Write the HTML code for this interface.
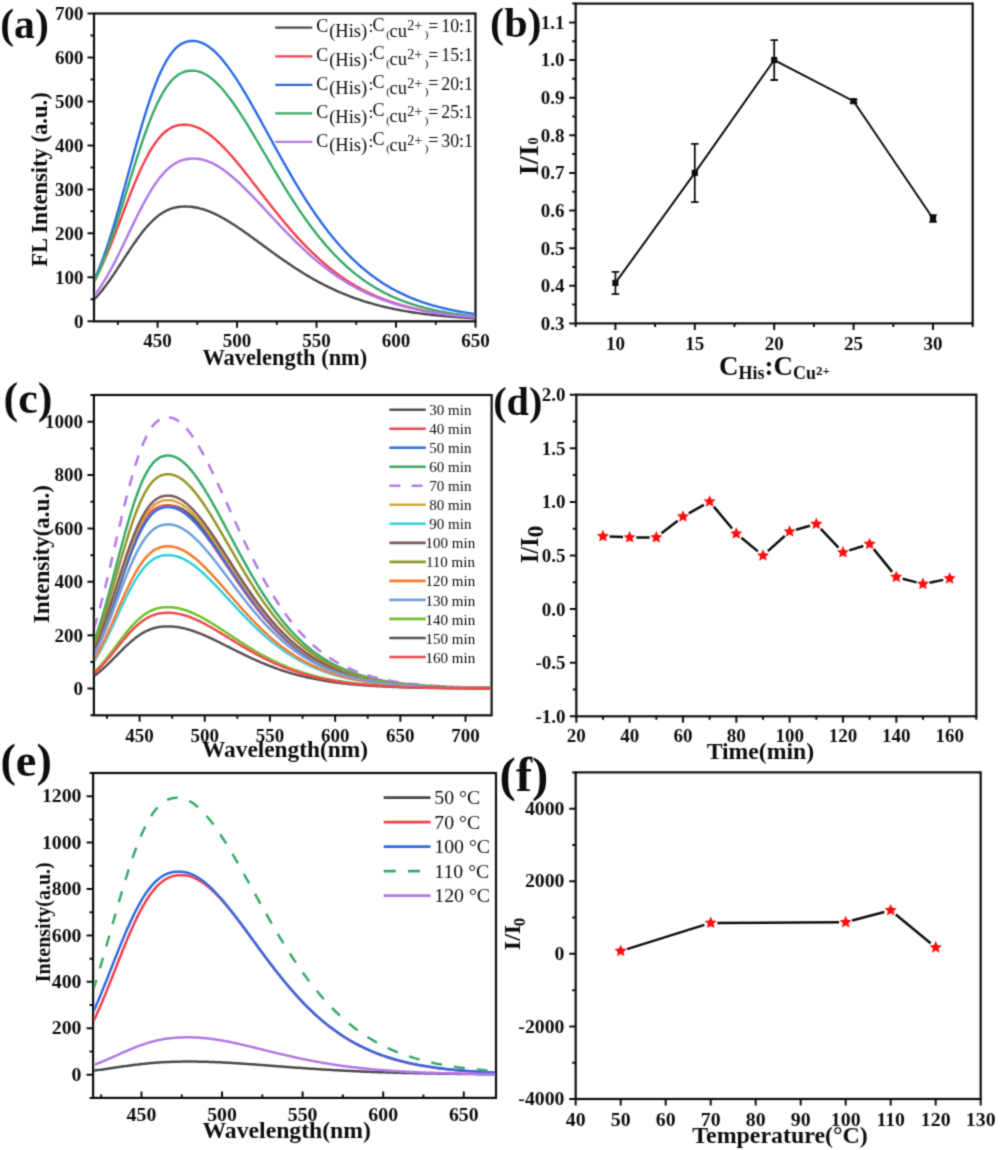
<!DOCTYPE html>
<html><head><meta charset="utf-8"><title>Figure</title>
<style>
html,body{margin:0;padding:0;background:#fff;}
svg{display:block;}
text{font-family:"Liberation Serif", serif;fill:#111;}
</style></head>
<body>
<svg width="1000" height="1150" viewBox="0 0 1000 1150">
<rect width="1000" height="1150" fill="#fff"/>
<defs>
<filter id="soft" filterUnits="userSpaceOnUse" x="0" y="0" width="1000" height="1150"><feConvolveMatrix order="3" kernelMatrix="0.0277 0.1110 0.0277 0.1110 0.4452 0.1110 0.0277 0.1110 0.0277" edgeMode="none"/></filter>
<clipPath id="clipA"><rect x="95" y="14.5" width="379.5" height="305.8"/></clipPath>
<clipPath id="clipC"><rect x="94.9" y="396" width="395.7" height="318.3"/></clipPath>
<clipPath id="clipE"><rect x="94.3" y="774" width="400.7" height="322.6"/></clipPath>
</defs>
<g filter="url(#soft)">
<rect x="94" y="13.5" width="381.5" height="307.8" fill="none" stroke="#111" stroke-width="2.2"/>
<path d="M87.5 321.3H94M87.5 277.33H94M87.5 233.36H94M87.5 189.39H94M87.5 145.41H94M87.5 101.44H94M87.5 57.47H94M87.5 13.5H94M90.5 299.31H94M90.5 255.34H94M90.5 211.37H94M90.5 167.4H94M90.5 123.43H94M90.5 79.46H94M90.5 35.49H94" stroke="#111" stroke-width="2.0" fill="none"/>
<text x="83.5" y="327.7" text-anchor="end" font-size="19" font-weight="bold">0</text>
<text x="83.5" y="283.73" text-anchor="end" font-size="19" font-weight="bold">100</text>
<text x="83.5" y="239.76" text-anchor="end" font-size="19" font-weight="bold">200</text>
<text x="83.5" y="195.79" text-anchor="end" font-size="19" font-weight="bold">300</text>
<text x="83.5" y="151.81" text-anchor="end" font-size="19" font-weight="bold">400</text>
<text x="83.5" y="107.84" text-anchor="end" font-size="19" font-weight="bold">500</text>
<text x="83.5" y="63.87" text-anchor="end" font-size="19" font-weight="bold">600</text>
<text x="83.5" y="19.9" text-anchor="end" font-size="19" font-weight="bold">700</text>
<path d="M157.58 321.3V327.8M237.06 321.3V327.8M316.54 321.3V327.8M396.02 321.3V327.8M475.5 321.3V327.8M117.84 321.3V324.8M197.32 321.3V324.8M276.8 321.3V324.8M356.28 321.3V324.8M435.76 321.3V324.8" stroke="#111" stroke-width="2.0" fill="none"/>
<text x="157.58" y="346.5" text-anchor="middle" font-size="19" font-weight="bold">450</text>
<text x="237.06" y="346.5" text-anchor="middle" font-size="19" font-weight="bold">500</text>
<text x="316.54" y="346.5" text-anchor="middle" font-size="19" font-weight="bold">550</text>
<text x="396.02" y="346.5" text-anchor="middle" font-size="19" font-weight="bold">600</text>
<text x="475.5" y="346.5" text-anchor="middle" font-size="19" font-weight="bold">650</text>
<text x="0.2" y="37.7" font-size="41.7" font-weight="bold" text-anchor="start">(a)</text>
<text x="284.8" y="364.6" font-size="22.4" font-weight="bold" text-anchor="middle">Wavelength (nm)</text>
<text transform="translate(46.5 179.5) rotate(-90)" font-size="22.6" font-weight="bold" text-anchor="middle">FL Intensity (a.u.)</text>
<g clip-path="url(#clipA)">
<path d="M94 299.72 L95.59 298.04 L97.18 296.29 L98.77 294.47 L100.36 292.58 L101.95 290.62 L103.54 288.6 L105.13 286.51 L106.72 284.37 L108.31 282.18 L109.9 279.94 L111.49 277.65 L113.08 275.32 L114.66 272.96 L116.25 270.57 L117.84 268.15 L119.43 265.72 L121.02 263.27 L122.61 260.82 L124.2 258.37 L125.79 255.92 L127.38 253.49 L128.97 251.07 L130.56 248.68 L132.15 246.31 L133.74 243.99 L135.33 241.7 L136.92 239.45 L138.51 237.26 L140.1 235.12 L141.69 233.05 L143.28 231.03 L144.87 229.09 L146.46 227.21 L148.05 225.41 L149.64 223.69 L151.22 222.05 L152.81 220.49 L154.4 219.01 L155.99 217.62 L157.58 216.31 L159.17 215.09 L160.76 213.96 L162.35 212.92 L163.94 211.96 L165.53 211.09 L167.12 210.3 L168.71 209.59 L170.3 208.97 L171.89 208.43 L173.48 207.96 L175.07 207.56 L176.66 207.24 L178.25 206.99 L179.84 206.79 L181.43 206.66 L183.02 206.58 L184.61 206.54 L186.2 206.54 L187.79 206.58 L189.38 206.66 L190.96 206.8 L192.55 206.98 L194.14 207.2 L195.73 207.48 L197.32 207.79 L198.91 208.15 L200.5 208.55 L202.09 208.99 L203.68 209.47 L205.27 209.99 L206.86 210.55 L208.45 211.15 L210.04 211.78 L211.63 212.44 L213.22 213.14 L214.81 213.87 L216.4 214.63 L217.99 215.42 L219.58 216.24 L221.17 217.09 L222.76 217.97 L224.35 218.86 L225.94 219.79 L227.53 220.73 L229.11 221.7 L230.7 222.69 L232.29 223.69 L233.88 224.72 L235.47 225.76 L237.06 226.81 L238.65 227.88 L240.24 228.97 L241.83 230.07 L243.42 231.17 L245.01 232.29 L246.6 233.42 L248.19 234.56 L249.78 235.7 L251.37 236.85 L252.96 238 L254.55 239.16 L256.14 240.33 L257.73 241.49 L259.32 242.66 L260.91 243.83 L262.5 245 L264.09 246.17 L265.68 247.34 L267.26 248.5 L268.85 249.66 L270.44 250.82 L272.03 251.98 L273.62 253.13 L275.21 254.28 L276.8 255.42 L278.39 256.55 L279.98 257.68 L281.57 258.8 L283.16 259.91 L284.75 261.01 L286.34 262.11 L287.93 263.19 L289.52 264.27 L291.11 265.34 L292.7 266.39 L294.29 267.44 L295.88 268.47 L297.47 269.5 L299.06 270.51 L300.65 271.51 L302.24 272.51 L303.82 273.48 L305.41 274.45 L307 275.4 L308.59 276.35 L310.18 277.28 L311.77 278.19 L313.36 279.1 L314.95 279.99 L316.54 280.86 L318.13 281.73 L319.72 282.58 L321.31 283.42 L322.9 284.25 L324.49 285.06 L326.08 285.86 L327.67 286.65 L329.26 287.42 L330.85 288.18 L332.44 288.93 L334.03 289.66 L335.62 290.39 L337.21 291.1 L338.8 291.79 L340.39 292.48 L341.98 293.15 L343.56 293.81 L345.15 294.45 L346.74 295.09 L348.33 295.71 L349.92 296.32 L351.51 296.92 L353.1 297.5 L354.69 298.08 L356.28 298.64 L357.87 299.19 L359.46 299.73 L361.05 300.26 L362.64 300.78 L364.23 301.29 L365.82 301.79 L367.41 302.27 L369 302.75 L370.59 303.21 L372.18 303.67 L373.77 304.11 L375.36 304.55 L376.95 304.97 L378.54 305.39 L380.12 305.8 L381.71 306.2 L383.3 306.58 L384.89 306.96 L386.48 307.33 L388.07 307.7 L389.66 308.05 L391.25 308.4 L392.84 308.73 L394.43 309.06 L396.02 309.39 L397.61 309.7 L399.2 310.01 L400.79 310.31 L402.38 310.6 L403.97 310.88 L405.56 311.16 L407.15 311.43 L408.74 311.7 L410.33 311.96 L411.92 312.21 L413.51 312.45 L415.1 312.69 L416.69 312.92 L418.27 313.15 L419.86 313.37 L421.45 313.59 L423.04 313.8 L424.63 314 L426.22 314.2 L427.81 314.4 L429.4 314.59 L430.99 314.77 L432.58 314.95 L434.17 315.13 L435.76 315.3 L437.35 315.47 L438.94 315.63 L440.53 315.79 L442.12 315.94 L443.71 316.09 L445.3 316.23 L446.89 316.38 L448.48 316.51 L450.07 316.65 L451.66 316.78 L453.25 316.91 L454.84 317.03 L456.43 317.15 L458.01 317.27 L459.6 317.38 L461.19 317.49 L462.78 317.6 L464.37 317.7 L465.96 317.81 L467.55 317.9 L469.14 318 L470.73 318.09 L472.32 318.19 L473.91 318.27 L475.5 318.36" stroke="#4a4a4a" stroke-width="2.4" fill="none" stroke-linejoin="round"/>
<path d="M94 281.72 L95.59 278.75 L97.18 275.65 L98.77 272.43 L100.36 269.1 L101.95 265.65 L103.54 262.11 L105.13 258.46 L106.72 254.73 L108.31 250.91 L109.9 247.01 L111.49 243.04 L113.08 239.02 L114.66 234.94 L116.25 230.82 L117.84 226.67 L119.43 222.5 L121.02 218.32 L122.61 214.13 L124.2 209.96 L125.79 205.8 L127.38 201.67 L128.97 197.58 L130.56 193.54 L132.15 189.55 L133.74 185.63 L135.33 181.79 L136.92 178.03 L138.51 174.37 L140.1 170.81 L141.69 167.35 L143.28 164.01 L144.87 160.79 L146.46 157.69 L148.05 154.72 L149.64 151.89 L151.22 149.2 L152.81 146.65 L154.4 144.24 L155.99 141.98 L157.58 139.87 L159.17 137.9 L160.76 136.09 L162.35 134.42 L163.94 132.89 L165.53 131.51 L167.12 130.28 L168.71 129.18 L170.3 128.22 L171.89 127.39 L173.48 126.68 L175.07 126.1 L176.66 125.63 L178.25 125.28 L179.84 125.02 L181.43 124.85 L183.02 124.77 L184.61 124.75 L186.2 124.79 L187.79 124.92 L189.38 125.14 L190.96 125.44 L192.55 125.82 L194.14 126.29 L195.73 126.83 L197.32 127.45 L198.91 128.15 L200.5 128.92 L202.09 129.77 L203.68 130.68 L205.27 131.67 L206.86 132.72 L208.45 133.83 L210.04 135.01 L211.63 136.25 L213.22 137.54 L214.81 138.89 L216.4 140.3 L217.99 141.75 L219.58 143.26 L221.17 144.81 L222.76 146.41 L224.35 148.05 L225.94 149.73 L227.53 151.44 L229.11 153.2 L230.7 154.99 L232.29 156.81 L233.88 158.65 L235.47 160.53 L237.06 162.43 L238.65 164.36 L240.24 166.31 L241.83 168.27 L243.42 170.26 L245.01 172.26 L246.6 174.27 L248.19 176.3 L249.78 178.33 L251.37 180.38 L252.96 182.43 L254.55 184.49 L256.14 186.55 L257.73 188.61 L259.32 190.67 L260.91 192.74 L262.5 194.8 L264.09 196.86 L265.68 198.91 L267.26 200.95 L268.85 202.99 L270.44 205.02 L272.03 207.05 L273.62 209.06 L275.21 211.06 L276.8 213.04 L278.39 215.02 L279.98 216.98 L281.57 218.92 L283.16 220.85 L284.75 222.76 L286.34 224.66 L287.93 226.53 L289.52 228.39 L291.11 230.23 L292.7 232.05 L294.29 233.85 L295.88 235.62 L297.47 237.38 L299.06 239.12 L300.65 240.83 L302.24 242.52 L303.82 244.19 L305.41 245.84 L307 247.46 L308.59 249.06 L310.18 250.64 L311.77 252.19 L313.36 253.72 L314.95 255.23 L316.54 256.71 L318.13 258.17 L319.72 259.6 L321.31 261.02 L322.9 262.4 L324.49 263.77 L326.08 265.11 L327.67 266.42 L329.26 267.72 L330.85 268.98 L332.44 270.23 L334.03 271.45 L335.62 272.65 L337.21 273.83 L338.8 274.98 L340.39 276.12 L341.98 277.23 L343.56 278.31 L345.15 279.38 L346.74 280.42 L348.33 281.44 L349.92 282.45 L351.51 283.43 L353.1 284.39 L354.69 285.32 L356.28 286.24 L357.87 287.14 L359.46 288.02 L361.05 288.88 L362.64 289.72 L364.23 290.55 L365.82 291.35 L367.41 292.13 L369 292.9 L370.59 293.65 L372.18 294.39 L373.77 295.1 L375.36 295.8 L376.95 296.48 L378.54 297.15 L380.12 297.8 L381.71 298.43 L383.3 299.05 L384.89 299.66 L386.48 300.25 L388.07 300.82 L389.66 301.38 L391.25 301.93 L392.84 302.46 L394.43 302.98 L396.02 303.49 L397.61 303.98 L399.2 304.47 L400.79 304.93 L402.38 305.39 L403.97 305.84 L405.56 306.27 L407.15 306.69 L408.74 307.11 L410.33 307.51 L411.92 307.9 L413.51 308.28 L415.1 308.65 L416.69 309.01 L418.27 309.36 L419.86 309.7 L421.45 310.03 L423.04 310.36 L424.63 310.67 L426.22 310.98 L427.81 311.28 L429.4 311.57 L430.99 311.85 L432.58 312.12 L434.17 312.39 L435.76 312.65 L437.35 312.9 L438.94 313.14 L440.53 313.38 L442.12 313.61 L443.71 313.84 L445.3 314.06 L446.89 314.27 L448.48 314.48 L450.07 314.68 L451.66 314.87 L453.25 315.06 L454.84 315.25 L456.43 315.43 L458.01 315.6 L459.6 315.77 L461.19 315.93 L462.78 316.09 L464.37 316.25 L465.96 316.4 L467.55 316.54 L469.14 316.69 L470.73 316.82 L472.32 316.96 L473.91 317.09 L475.5 317.21" stroke="#f2414a" stroke-width="2.4" fill="none" stroke-linejoin="round"/>
<path d="M94 280.26 L95.59 276.82 L97.18 273.2 L98.77 269.41 L100.36 265.44 L101.95 261.3 L103.54 256.99 L105.13 252.51 L106.72 247.88 L108.31 243.1 L109.9 238.17 L111.49 233.11 L113.08 227.92 L114.66 222.61 L116.25 217.19 L117.84 211.67 L119.43 206.07 L121.02 200.39 L122.61 194.65 L124.2 188.87 L125.79 183.04 L127.38 177.2 L128.97 171.34 L130.56 165.5 L132.15 159.67 L133.74 153.87 L135.33 148.12 L136.92 142.42 L138.51 136.8 L140.1 131.27 L141.69 125.83 L143.28 120.5 L144.87 115.29 L146.46 110.21 L148.05 105.27 L149.64 100.48 L151.22 95.85 L152.81 91.39 L154.4 87.1 L155.99 82.99 L157.58 79.07 L159.17 75.33 L160.76 71.79 L162.35 68.45 L163.94 65.31 L165.53 62.38 L167.12 59.64 L168.71 57.11 L170.3 54.78 L171.89 52.65 L173.48 50.71 L175.07 48.97 L176.66 47.43 L178.25 46.06 L179.84 44.88 L181.43 43.88 L183.02 43.04 L184.61 42.36 L186.2 41.83 L187.79 41.44 L189.38 41.18 L190.96 41.04 L192.55 40.98 L194.14 41.01 L195.73 41.16 L197.32 41.43 L198.91 41.81 L200.5 42.31 L202.09 42.93 L203.68 43.65 L205.27 44.49 L206.86 45.43 L208.45 46.48 L210.04 47.64 L211.63 48.89 L213.22 50.23 L214.81 51.68 L216.4 53.21 L217.99 54.83 L219.58 56.54 L221.17 58.32 L222.76 60.19 L224.35 62.14 L225.94 64.16 L227.53 66.24 L229.11 68.4 L230.7 70.62 L232.29 72.9 L233.88 75.24 L235.47 77.63 L237.06 80.08 L238.65 82.58 L240.24 85.12 L241.83 87.7 L243.42 90.33 L245.01 92.99 L246.6 95.69 L248.19 98.42 L249.78 101.17 L251.37 103.96 L252.96 106.77 L254.55 109.59 L256.14 112.44 L257.73 115.31 L259.32 118.18 L260.91 121.07 L262.5 123.97 L264.09 126.88 L265.68 129.79 L267.26 132.7 L268.85 135.61 L270.44 138.52 L272.03 141.43 L273.62 144.33 L275.21 147.23 L276.8 150.12 L278.39 152.99 L279.98 155.86 L281.57 158.71 L283.16 161.55 L284.75 164.37 L286.34 167.17 L287.93 169.95 L289.52 172.72 L291.11 175.46 L292.7 178.18 L294.29 180.88 L295.88 183.55 L297.47 186.2 L299.06 188.82 L300.65 191.42 L302.24 193.99 L303.82 196.53 L305.41 199.04 L307 201.52 L308.59 203.97 L310.18 206.39 L311.77 208.78 L313.36 211.14 L314.95 213.47 L316.54 215.76 L318.13 218.02 L319.72 220.25 L321.31 222.45 L322.9 224.61 L324.49 226.75 L326.08 228.84 L327.67 230.91 L329.26 232.94 L330.85 234.94 L332.44 236.9 L334.03 238.84 L335.62 240.74 L337.21 242.6 L338.8 244.43 L340.39 246.23 L341.98 248 L343.56 249.74 L345.15 251.44 L346.74 253.11 L348.33 254.75 L349.92 256.36 L351.51 257.93 L353.1 259.48 L354.69 260.99 L356.28 262.48 L357.87 263.93 L359.46 265.36 L361.05 266.75 L362.64 268.12 L364.23 269.45 L365.82 270.76 L367.41 272.04 L369 273.3 L370.59 274.52 L372.18 275.72 L373.77 276.9 L375.36 278.04 L376.95 279.16 L378.54 280.26 L380.12 281.33 L381.71 282.38 L383.3 283.4 L384.89 284.4 L386.48 285.38 L388.07 286.33 L389.66 287.26 L391.25 288.17 L392.84 289.06 L394.43 289.92 L396.02 290.77 L397.61 291.59 L399.2 292.4 L400.79 293.18 L402.38 293.95 L403.97 294.69 L405.56 295.42 L407.15 296.13 L408.74 296.82 L410.33 297.5 L411.92 298.15 L413.51 298.79 L415.1 299.42 L416.69 300.03 L418.27 300.62 L419.86 301.2 L421.45 301.76 L423.04 302.31 L424.63 302.84 L426.22 303.36 L427.81 303.87 L429.4 304.36 L430.99 304.84 L432.58 305.31 L434.17 305.76 L435.76 306.21 L437.35 306.64 L438.94 307.06 L440.53 307.46 L442.12 307.86 L443.71 308.25 L445.3 308.62 L446.89 308.99 L448.48 309.34 L450.07 309.69 L451.66 310.02 L453.25 310.35 L454.84 310.67 L456.43 310.98 L458.01 311.28 L459.6 311.57 L461.19 311.85 L462.78 312.13 L464.37 312.4 L465.96 312.66 L467.55 312.91 L469.14 313.16 L470.73 313.4 L472.32 313.63 L473.91 313.85 L475.5 314.07" stroke="#2e6be2" stroke-width="2.4" fill="none" stroke-linejoin="round"/>
<path d="M94 281.75 L95.59 278.55 L97.18 275.2 L98.77 271.7 L100.36 268.04 L101.95 264.24 L103.54 260.29 L105.13 256.21 L106.72 251.99 L108.31 247.64 L109.9 243.17 L111.49 238.59 L113.08 233.9 L114.66 229.11 L116.25 224.24 L117.84 219.3 L119.43 214.28 L121.02 209.21 L122.61 204.09 L124.2 198.94 L125.79 193.77 L127.38 188.59 L128.97 183.4 L130.56 178.24 L132.15 173.09 L133.74 167.99 L135.33 162.93 L136.92 157.94 L138.51 153.01 L140.1 148.17 L141.69 143.41 L143.28 138.76 L144.87 134.23 L146.46 129.81 L148.05 125.52 L149.64 121.36 L151.22 117.35 L152.81 113.49 L154.4 109.79 L155.99 106.25 L157.58 102.87 L159.17 99.66 L160.76 96.62 L162.35 93.76 L163.94 91.07 L165.53 88.56 L167.12 86.23 L168.71 84.08 L170.3 82.1 L171.89 80.29 L173.48 78.66 L175.07 77.2 L176.66 75.9 L178.25 74.76 L179.84 73.78 L181.43 72.95 L183.02 72.26 L184.61 71.71 L186.2 71.29 L187.79 70.98 L189.38 70.79 L190.96 70.69 L192.55 70.66 L194.14 70.72 L195.73 70.9 L197.32 71.19 L198.91 71.59 L200.5 72.1 L202.09 72.72 L203.68 73.45 L205.27 74.28 L206.86 75.22 L208.45 76.25 L210.04 77.38 L211.63 78.6 L213.22 79.92 L214.81 81.32 L216.4 82.81 L217.99 84.39 L219.58 86.04 L221.17 87.77 L222.76 89.57 L224.35 91.44 L225.94 93.39 L227.53 95.39 L229.11 97.46 L230.7 99.59 L232.29 101.77 L233.88 104.01 L235.47 106.3 L237.06 108.63 L238.65 111.01 L240.24 113.42 L241.83 115.88 L243.42 118.37 L245.01 120.89 L246.6 123.45 L248.19 126.03 L249.78 128.63 L251.37 131.26 L252.96 133.9 L254.55 136.57 L256.14 139.24 L257.73 141.93 L259.32 144.63 L260.91 147.33 L262.5 150.04 L264.09 152.76 L265.68 155.47 L267.26 158.18 L268.85 160.89 L270.44 163.6 L272.03 166.3 L273.62 168.99 L275.21 171.67 L276.8 174.33 L278.39 176.99 L279.98 179.63 L281.57 182.25 L283.16 184.86 L284.75 187.45 L286.34 190.02 L287.93 192.56 L289.52 195.09 L291.11 197.59 L292.7 200.07 L294.29 202.52 L295.88 204.95 L297.47 207.35 L299.06 209.73 L300.65 212.07 L302.24 214.39 L303.82 216.68 L305.41 218.94 L307 221.17 L308.59 223.37 L310.18 225.53 L311.77 227.67 L313.36 229.78 L314.95 231.85 L316.54 233.89 L318.13 235.9 L319.72 237.88 L321.31 239.83 L322.9 241.74 L324.49 243.62 L326.08 245.47 L327.67 247.29 L329.26 249.07 L330.85 250.82 L332.44 252.54 L334.03 254.23 L335.62 255.88 L337.21 257.51 L338.8 259.1 L340.39 260.66 L341.98 262.19 L343.56 263.69 L345.15 265.16 L346.74 266.6 L348.33 268.01 L349.92 269.39 L351.51 270.74 L353.1 272.06 L354.69 273.35 L356.28 274.62 L357.87 275.86 L359.46 277.07 L361.05 278.25 L362.64 279.4 L364.23 280.53 L365.82 281.63 L367.41 282.71 L369 283.76 L370.59 284.79 L372.18 285.79 L373.77 286.77 L375.36 287.73 L376.95 288.66 L378.54 289.57 L380.12 290.46 L381.71 291.32 L383.3 292.17 L384.89 292.99 L386.48 293.79 L388.07 294.57 L389.66 295.33 L391.25 296.08 L392.84 296.8 L394.43 297.5 L396.02 298.19 L397.61 298.86 L399.2 299.51 L400.79 300.14 L402.38 300.76 L403.97 301.36 L405.56 301.94 L407.15 302.51 L408.74 303.07 L410.33 303.6 L411.92 304.13 L413.51 304.64 L415.1 305.13 L416.69 305.61 L418.27 306.08 L419.86 306.54 L421.45 306.98 L423.04 307.41 L424.63 307.83 L426.22 308.23 L427.81 308.63 L429.4 309.01 L430.99 309.38 L432.58 309.75 L434.17 310.1 L435.76 310.44 L437.35 310.77 L438.94 311.09 L440.53 311.41 L442.12 311.71 L443.71 312 L445.3 312.29 L446.89 312.57 L448.48 312.84 L450.07 313.1 L451.66 313.35 L453.25 313.6 L454.84 313.84 L456.43 314.07 L458.01 314.3 L459.6 314.51 L461.19 314.73 L462.78 314.93 L464.37 315.13 L465.96 315.32 L467.55 315.51 L469.14 315.69 L470.73 315.87 L472.32 316.04 L473.91 316.21 L475.5 316.37" stroke="#3aa86a" stroke-width="2.4" fill="none" stroke-linejoin="round"/>
<path d="M94 295.82 L95.59 293.78 L97.18 291.63 L98.77 289.39 L100.36 287.06 L101.95 284.63 L103.54 282.1 L105.13 279.49 L106.72 276.8 L108.31 274.02 L109.9 271.16 L111.49 268.23 L113.08 265.23 L114.66 262.17 L116.25 259.06 L117.84 255.89 L119.43 252.68 L121.02 249.43 L122.61 246.15 L124.2 242.85 L125.79 239.53 L127.38 236.2 L128.97 232.87 L130.56 229.55 L132.15 226.24 L133.74 222.96 L135.33 219.7 L136.92 216.47 L138.51 213.29 L140.1 210.16 L141.69 207.09 L143.28 204.08 L144.87 201.13 L146.46 198.26 L148.05 195.47 L149.64 192.76 L151.22 190.15 L152.81 187.62 L154.4 185.2 L155.99 182.87 L157.58 180.65 L159.17 178.53 L160.76 176.52 L162.35 174.62 L163.94 172.84 L165.53 171.16 L167.12 169.6 L168.71 168.15 L170.3 166.81 L171.89 165.58 L173.48 164.47 L175.07 163.46 L176.66 162.55 L178.25 161.76 L179.84 161.06 L181.43 160.46 L183.02 159.95 L184.61 159.54 L186.2 159.21 L187.79 158.95 L189.38 158.78 L190.96 158.67 L192.55 158.62 L194.14 158.61 L195.73 158.66 L197.32 158.78 L198.91 158.97 L200.5 159.24 L202.09 159.57 L203.68 159.97 L205.27 160.43 L206.86 160.96 L208.45 161.55 L210.04 162.2 L211.63 162.92 L213.22 163.69 L214.81 164.51 L216.4 165.4 L217.99 166.33 L219.58 167.32 L221.17 168.35 L222.76 169.44 L224.35 170.57 L225.94 171.74 L227.53 172.96 L229.11 174.21 L230.7 175.51 L232.29 176.84 L233.88 178.21 L235.47 179.61 L237.06 181.04 L238.65 182.5 L240.24 183.99 L241.83 185.51 L243.42 187.05 L245.01 188.61 L246.6 190.2 L248.19 191.8 L249.78 193.42 L251.37 195.05 L252.96 196.7 L254.55 198.37 L256.14 200.04 L257.73 201.72 L259.32 203.42 L260.91 205.12 L262.5 206.82 L264.09 208.53 L265.68 210.24 L267.26 211.95 L268.85 213.67 L270.44 215.38 L272.03 217.09 L273.62 218.8 L275.21 220.5 L276.8 222.2 L278.39 223.89 L279.98 225.58 L281.57 227.25 L283.16 228.92 L284.75 230.58 L286.34 232.23 L287.93 233.86 L289.52 235.49 L291.11 237.1 L292.7 238.69 L294.29 240.28 L295.88 241.85 L297.47 243.4 L299.06 244.94 L300.65 246.46 L302.24 247.97 L303.82 249.46 L305.41 250.93 L307 252.38 L308.59 253.82 L310.18 255.24 L311.77 256.64 L313.36 258.02 L314.95 259.38 L316.54 260.72 L318.13 262.05 L319.72 263.35 L321.31 264.63 L322.9 265.9 L324.49 267.14 L326.08 268.37 L327.67 269.57 L329.26 270.76 L330.85 271.92 L332.44 273.07 L334.03 274.19 L335.62 275.3 L337.21 276.39 L338.8 277.45 L340.39 278.5 L341.98 279.53 L343.56 280.54 L345.15 281.53 L346.74 282.5 L348.33 283.45 L349.92 284.38 L351.51 285.29 L353.1 286.19 L354.69 287.07 L356.28 287.93 L357.87 288.77 L359.46 289.59 L361.05 290.4 L362.64 291.19 L364.23 291.96 L365.82 292.72 L367.41 293.46 L369 294.18 L370.59 294.89 L372.18 295.58 L373.77 296.26 L375.36 296.92 L376.95 297.56 L378.54 298.19 L380.12 298.81 L381.71 299.41 L383.3 300 L384.89 300.57 L386.48 301.13 L388.07 301.68 L389.66 302.21 L391.25 302.73 L392.84 303.24 L394.43 303.73 L396.02 304.22 L397.61 304.69 L399.2 305.15 L400.79 305.59 L402.38 306.03 L403.97 306.46 L405.56 306.87 L407.15 307.28 L408.74 307.67 L410.33 308.05 L411.92 308.43 L413.51 308.79 L415.1 309.15 L416.69 309.49 L418.27 309.83 L419.86 310.15 L421.45 310.47 L423.04 310.78 L424.63 311.09 L426.22 311.38 L427.81 311.67 L429.4 311.94 L430.99 312.22 L432.58 312.48 L434.17 312.73 L435.76 312.98 L437.35 313.23 L438.94 313.46 L440.53 313.69 L442.12 313.91 L443.71 314.13 L445.3 314.34 L446.89 314.55 L448.48 314.75 L450.07 314.94 L451.66 315.13 L453.25 315.31 L454.84 315.49 L456.43 315.66 L458.01 315.83 L459.6 315.99 L461.19 316.15 L462.78 316.3 L464.37 316.45 L465.96 316.6 L467.55 316.74 L469.14 316.88 L470.73 317.01 L472.32 317.14 L473.91 317.26 L475.5 317.38" stroke="#b078e6" stroke-width="2.4" fill="none" stroke-linejoin="round"/>
</g>
<path d="M275.2 27.6H312.3" stroke="#4a4a4a" stroke-width="2.3"/>
<text font-size="18" fill="#333"><tspan x="316.3" y="32.3">C</tspan><tspan x="329.2" y="37.1" font-size="18.5">(His)</tspan><tspan x="368.5" y="32.3" font-size="17.5">:</tspan><tspan x="372.6" y="30.5" font-size="18">C</tspan><tspan x="386.3" y="37.8" font-size="11">(</tspan><tspan x="389.5" y="36.5" font-size="18.5">cu</tspan><tspan x="407.2" y="30.4" font-size="14">2+</tspan><tspan x="424.7" y="37.8" font-size="11">)</tspan><tspan x="428.3" y="32">=</tspan><tspan x="441.3" y="32.3" font-size="17.8">10:1</tspan></text>
<path d="M275.2 56.3H312.3" stroke="#f2414a" stroke-width="2.3"/>
<text font-size="18" fill="#333"><tspan x="316.3" y="61">C</tspan><tspan x="329.2" y="65.8" font-size="18.5">(His)</tspan><tspan x="368.5" y="61" font-size="17.5">:</tspan><tspan x="372.6" y="59.2" font-size="18">C</tspan><tspan x="386.3" y="66.5" font-size="11">(</tspan><tspan x="389.5" y="65.2" font-size="18.5">cu</tspan><tspan x="407.2" y="59.1" font-size="14">2+</tspan><tspan x="424.7" y="66.5" font-size="11">)</tspan><tspan x="428.3" y="60.7">=</tspan><tspan x="441.3" y="61" font-size="17.8">15:1</tspan></text>
<path d="M275.2 84.9H312.3" stroke="#2e6be2" stroke-width="2.3"/>
<text font-size="18" fill="#333"><tspan x="316.3" y="89.6">C</tspan><tspan x="329.2" y="94.4" font-size="18.5">(His)</tspan><tspan x="368.5" y="89.6" font-size="17.5">:</tspan><tspan x="372.6" y="87.8" font-size="18">C</tspan><tspan x="386.3" y="95.1" font-size="11">(</tspan><tspan x="389.5" y="93.8" font-size="18.5">cu</tspan><tspan x="407.2" y="87.7" font-size="14">2+</tspan><tspan x="424.7" y="95.1" font-size="11">)</tspan><tspan x="428.3" y="89.3">=</tspan><tspan x="441.3" y="89.6" font-size="17.8">20:1</tspan></text>
<path d="M275.2 113.3H312.3" stroke="#3aa86a" stroke-width="2.3"/>
<text font-size="18" fill="#333"><tspan x="316.3" y="118">C</tspan><tspan x="329.2" y="122.8" font-size="18.5">(His)</tspan><tspan x="368.5" y="118" font-size="17.5">:</tspan><tspan x="372.6" y="116.2" font-size="18">C</tspan><tspan x="386.3" y="123.5" font-size="11">(</tspan><tspan x="389.5" y="122.2" font-size="18.5">cu</tspan><tspan x="407.2" y="116.1" font-size="14">2+</tspan><tspan x="424.7" y="123.5" font-size="11">)</tspan><tspan x="428.3" y="117.7">=</tspan><tspan x="441.3" y="118" font-size="17.8">25:1</tspan></text>
<path d="M275.2 141.8H312.3" stroke="#b078e6" stroke-width="2.3"/>
<text font-size="18" fill="#333"><tspan x="316.3" y="146.5">C</tspan><tspan x="329.2" y="151.3" font-size="18.5">(His)</tspan><tspan x="368.5" y="146.5" font-size="17.5">:</tspan><tspan x="372.6" y="144.7" font-size="18">C</tspan><tspan x="386.3" y="152" font-size="11">(</tspan><tspan x="389.5" y="150.7" font-size="18.5">cu</tspan><tspan x="407.2" y="144.6" font-size="14">2+</tspan><tspan x="424.7" y="152" font-size="11">)</tspan><tspan x="428.3" y="146.2">=</tspan><tspan x="441.3" y="146.5" font-size="17.8">30:1</tspan></text>
<rect x="575.7" y="3.6" width="397" height="319.8" fill="none" stroke="#111" stroke-width="2.2"/>
<path d="M569.2 323.4H575.7M569.2 285.78H575.7M569.2 248.15H575.7M569.2 210.53H575.7M569.2 172.91H575.7M569.2 135.28H575.7M569.2 97.66H575.7M569.2 60.04H575.7M569.2 22.41H575.7M572.2 304.59H575.7M572.2 266.96H575.7M572.2 229.34H575.7M572.2 191.72H575.7M572.2 154.09H575.7M572.2 116.47H575.7M572.2 78.85H575.7M572.2 41.22H575.7M572.2 3.6H575.7" stroke="#111" stroke-width="2.0" fill="none"/>
<text x="564.5" y="329.8" text-anchor="end" font-size="19" font-weight="bold">0.3</text>
<text x="564.5" y="292.18" text-anchor="end" font-size="19" font-weight="bold">0.4</text>
<text x="564.5" y="254.55" text-anchor="end" font-size="19" font-weight="bold">0.5</text>
<text x="564.5" y="216.93" text-anchor="end" font-size="19" font-weight="bold">0.6</text>
<text x="564.5" y="179.31" text-anchor="end" font-size="19" font-weight="bold">0.7</text>
<text x="564.5" y="141.68" text-anchor="end" font-size="19" font-weight="bold">0.8</text>
<text x="564.5" y="104.06" text-anchor="end" font-size="19" font-weight="bold">0.9</text>
<text x="564.5" y="66.44" text-anchor="end" font-size="19" font-weight="bold">1.0</text>
<text x="564.5" y="28.81" text-anchor="end" font-size="19" font-weight="bold">1.1</text>
<path d="M615.4 323.4V329.9M694.8 323.4V329.9M774.2 323.4V329.9M853.6 323.4V329.9M933 323.4V329.9M575.7 323.4V326.9M655.1 323.4V326.9M734.5 323.4V326.9M813.9 323.4V326.9M893.3 323.4V326.9M972.7 323.4V326.9" stroke="#111" stroke-width="2.0" fill="none"/>
<text x="615.4" y="349.5" text-anchor="middle" font-size="19" font-weight="bold">10</text>
<text x="694.8" y="349.5" text-anchor="middle" font-size="19" font-weight="bold">15</text>
<text x="774.2" y="349.5" text-anchor="middle" font-size="19" font-weight="bold">20</text>
<text x="853.6" y="349.5" text-anchor="middle" font-size="19" font-weight="bold">25</text>
<text x="933" y="349.5" text-anchor="middle" font-size="19" font-weight="bold">30</text>
<text x="490.1" y="37.1" font-size="42.2" font-weight="bold" text-anchor="start">(b)</text>
<path d="M615.4 282.95 L694.8 172.91 L774.2 60.04 L853.6 101.16 L933 218.54" stroke="#111" stroke-width="2" fill="none"/>
<path d="M615.4 271.86V294.05 M611.6 271.86H619.2 M611.6 294.05H619.2" stroke="#111" stroke-width="1.8" fill="none"/>
<rect x="612.3" y="279.85" width="6.2" height="6.2" fill="#111"/>
<path d="M694.8 143.94V202.06 M691 143.94H698.6 M691 202.06H698.6" stroke="#111" stroke-width="1.8" fill="none"/>
<rect x="691.7" y="169.81" width="6.2" height="6.2" fill="#111"/>
<path d="M774.2 40.09V79.98 M770.4 40.09H778 M770.4 79.98H778" stroke="#111" stroke-width="1.8" fill="none"/>
<rect x="771.1" y="56.94" width="6.2" height="6.2" fill="#111"/>
<path d="M853.6 99.54V102.93 M849.8 99.54H857.4 M849.8 102.93H857.4" stroke="#111" stroke-width="1.8" fill="none"/>
<rect x="850.5" y="98.06" width="6.2" height="6.2" fill="#111"/>
<path d="M933 215.04V221.82 M929.2 215.04H936.8 M929.2 221.82H936.8" stroke="#111" stroke-width="1.8" fill="none"/>
<rect x="929.9" y="215.44" width="6.2" height="6.2" fill="#111"/>
<text transform="translate(538.3 175.6) rotate(-90)" font-size="27" font-weight="bold" textLength="30.6" lengthAdjust="spacingAndGlyphs">I/I</text>
<text transform="translate(537.6 144.6) rotate(-90)" font-size="14" font-weight="bold">0</text>
<text x="774.5" y="375" font-size="27" font-weight="bold" text-anchor="middle">C<tspan font-size="18" dy="4">His</tspan><tspan dy="-4">:C</tspan><tspan font-size="18" dy="4">Cu</tspan><tspan font-size="13" dy="-4.5">2+</tspan></text>
<rect x="93.9" y="395" width="397.7" height="320.3" fill="none" stroke="#111" stroke-width="2.2"/>
<path d="M87.4 688.61H93.9M87.4 635.22H93.9M87.4 581.84H93.9M87.4 528.46H93.9M87.4 475.08H93.9M87.4 421.69H93.9M90.4 715.3H93.9M90.4 661.92H93.9M90.4 608.53H93.9M90.4 555.15H93.9M90.4 501.77H93.9M90.4 448.38H93.9M90.4 395H93.9" stroke="#111" stroke-width="2.0" fill="none"/>
<text x="83" y="695.01" text-anchor="end" font-size="19" font-weight="bold">0</text>
<text x="83" y="641.62" text-anchor="end" font-size="19" font-weight="bold">200</text>
<text x="83" y="588.24" text-anchor="end" font-size="19" font-weight="bold">400</text>
<text x="83" y="534.86" text-anchor="end" font-size="19" font-weight="bold">600</text>
<text x="83" y="481.48" text-anchor="end" font-size="19" font-weight="bold">800</text>
<text x="83" y="428.09" text-anchor="end" font-size="19" font-weight="bold">1000</text>
<path d="M139.54 715.3V721.8M204.73 715.3V721.8M269.93 715.3V721.8M335.13 715.3V721.8M400.32 715.3V721.8M465.52 715.3V721.8M106.94 715.3V718.8M172.14 715.3V718.8M237.33 715.3V718.8M302.53 715.3V718.8M367.73 715.3V718.8M432.92 715.3V718.8" stroke="#111" stroke-width="2.0" fill="none"/>
<text x="139.54" y="741.5" text-anchor="middle" font-size="19" font-weight="bold">450</text>
<text x="204.73" y="741.5" text-anchor="middle" font-size="19" font-weight="bold">500</text>
<text x="269.93" y="741.5" text-anchor="middle" font-size="19" font-weight="bold">550</text>
<text x="335.13" y="741.5" text-anchor="middle" font-size="19" font-weight="bold">600</text>
<text x="400.32" y="741.5" text-anchor="middle" font-size="19" font-weight="bold">650</text>
<text x="465.52" y="741.5" text-anchor="middle" font-size="19" font-weight="bold">700</text>
<text x="3.5" y="412.6" font-size="44" font-weight="bold" text-anchor="start">(c)</text>
<text x="285" y="756.8" font-size="22.5" font-weight="bold" text-anchor="middle" textLength="166" lengthAdjust="spacingAndGlyphs">Wavelength(nm)</text>
<text transform="translate(49.3 554.2) rotate(-90)" font-size="23" font-weight="bold" text-anchor="middle">Intensity(a.u.)</text>
<g clip-path="url(#clipC)">
<path d="M93.9 653.81 L95.2 651.15 L96.51 648.36 L97.81 645.46 L99.12 642.46 L100.42 639.35 L101.72 636.14 L103.03 632.83 L104.33 629.44 L105.64 625.96 L106.94 622.4 L108.24 618.78 L109.55 615.09 L110.85 611.35 L112.16 607.56 L113.46 603.74 L114.76 599.89 L116.07 596.02 L117.37 592.13 L118.67 588.25 L119.98 584.38 L121.28 580.53 L122.59 576.7 L123.89 572.91 L125.19 569.16 L126.5 565.47 L127.8 561.84 L129.11 558.29 L130.41 554.81 L131.71 551.42 L133.02 548.12 L134.32 544.92 L135.63 541.83 L136.93 538.85 L138.23 535.98 L139.54 533.24 L140.84 530.62 L142.15 528.13 L143.45 525.77 L144.75 523.54 L146.06 521.45 L147.36 519.5 L148.67 517.68 L149.97 516 L151.27 514.45 L152.58 513.04 L153.88 511.76 L155.18 510.62 L156.49 509.6 L157.79 508.71 L159.1 507.94 L160.4 507.29 L161.7 506.75 L163.01 506.32 L164.31 505.99 L165.62 505.75 L166.92 505.6 L168.22 505.52 L169.53 505.5 L170.83 505.54 L172.14 505.67 L173.44 505.87 L174.74 506.15 L176.05 506.51 L177.35 506.94 L178.66 507.45 L179.96 508.03 L181.26 508.68 L182.57 509.4 L183.87 510.19 L185.18 511.04 L186.48 511.96 L187.78 512.94 L189.09 513.98 L190.39 515.08 L191.7 516.24 L193 517.45 L194.3 518.71 L195.61 520.02 L196.91 521.38 L198.21 522.79 L199.52 524.24 L200.82 525.73 L202.13 527.26 L203.43 528.83 L204.73 530.44 L206.04 532.08 L207.34 533.75 L208.65 535.45 L209.95 537.17 L211.25 538.93 L212.56 540.71 L213.86 542.51 L215.17 544.33 L216.47 546.16 L217.77 548.02 L219.08 549.89 L220.38 551.77 L221.69 553.66 L222.99 555.57 L224.29 557.48 L225.6 559.4 L226.9 561.32 L228.21 563.24 L229.51 565.17 L230.81 567.1 L232.12 569.03 L233.42 570.96 L234.72 572.88 L236.03 574.8 L237.33 576.71 L238.64 578.62 L239.94 580.51 L241.24 582.4 L242.55 584.28 L243.85 586.15 L245.16 588.01 L246.46 589.85 L247.76 591.68 L249.07 593.5 L250.37 595.3 L251.68 597.09 L252.98 598.86 L254.28 600.61 L255.59 602.34 L256.89 604.06 L258.2 605.76 L259.5 607.44 L260.8 609.1 L262.11 610.74 L263.41 612.36 L264.72 613.96 L266.02 615.54 L267.32 617.1 L268.63 618.64 L269.93 620.15 L271.24 621.65 L272.54 623.12 L273.84 624.57 L275.15 626 L276.45 627.4 L277.75 628.78 L279.06 630.14 L280.36 631.48 L281.67 632.8 L282.97 634.09 L284.27 635.36 L285.58 636.61 L286.88 637.84 L288.19 639.04 L289.49 640.23 L290.79 641.39 L292.1 642.53 L293.4 643.65 L294.71 644.74 L296.01 645.82 L297.31 646.87 L298.62 647.9 L299.92 648.92 L301.23 649.91 L302.53 650.88 L303.83 651.83 L305.14 652.76 L306.44 653.67 L307.75 654.57 L309.05 655.44 L310.35 656.29 L311.66 657.13 L312.96 657.95 L314.26 658.75 L315.57 659.53 L316.87 660.29 L318.18 661.04 L319.48 661.77 L320.78 662.48 L322.09 663.18 L323.39 663.86 L324.7 664.52 L326 665.17 L327.3 665.8 L328.61 666.42 L329.91 667.02 L331.22 667.61 L332.52 668.18 L333.82 668.74 L335.13 669.29 L336.43 669.82 L337.74 670.34 L339.04 670.85 L340.34 671.34 L341.65 671.82 L342.95 672.29 L344.26 672.75 L345.56 673.19 L346.86 673.63 L348.17 674.05 L349.47 674.46 L350.78 674.86 L352.08 675.25 L353.38 675.64 L354.69 676.01 L355.99 676.37 L357.29 676.72 L358.6 677.06 L359.9 677.39 L361.21 677.71 L362.51 678.03 L363.81 678.34 L365.12 678.63 L366.42 678.92 L367.73 679.21 L369.03 679.48 L370.33 679.75 L371.64 680.01 L372.94 680.26 L374.25 680.5 L375.55 680.74 L376.85 680.97 L378.16 681.2 L379.46 681.42 L380.77 681.63 L382.07 681.84 L383.37 682.04 L384.68 682.23 L385.98 682.42 L387.29 682.61 L388.59 682.78 L389.89 682.96 L391.2 683.13 L392.5 683.29 L393.8 683.45 L395.11 683.61 L396.41 683.76 L397.72 683.9 L399.02 684.04 L400.32 684.18 L401.63 684.31 L402.93 684.44 L404.24 684.57 L405.54 684.69 L406.84 684.81 L408.15 684.93 L409.45 685.04 L410.76 685.15 L412.06 685.25 L413.36 685.35 L414.67 685.45 L415.97 685.55 L417.28 685.64 L418.58 685.73 L419.88 685.82 L421.19 685.9 L422.49 685.99 L423.8 686.07 L425.1 686.15 L426.4 686.22 L427.71 686.29 L429.01 686.36 L430.32 686.43 L431.62 686.5 L432.92 686.57 L434.23 686.63 L435.53 686.69 L436.83 686.75 L438.14 686.8 L439.44 686.86 L440.75 686.91 L442.05 686.97 L443.35 687.02 L444.66 687.07 L445.96 687.11 L447.27 687.16 L448.57 687.2 L449.87 687.25 L451.18 687.29 L452.48 687.33 L453.79 687.37 L455.09 687.41 L456.39 687.45 L457.7 687.48 L459 687.52 L460.31 687.55 L461.61 687.58 L462.91 687.61 L464.22 687.64 L465.52 687.67 L466.83 687.7 L468.13 687.73 L469.43 687.76 L470.74 687.79 L472.04 687.81 L473.34 687.84 L474.65 687.86 L475.95 687.88 L477.26 687.9 L478.56 687.93 L479.86 687.95 L481.17 687.97 L482.47 687.99 L483.78 688.01 L485.08 688.03 L486.38 688.04 L487.69 688.06 L488.99 688.08 L490.3 688.09 L491.6 688.11" stroke="#555555" stroke-width="2.5" fill="none" stroke-linejoin="round"/>
<path d="M93.9 649.62 L95.2 646.75 L96.51 643.77 L97.81 640.69 L99.12 637.49 L100.42 634.2 L101.72 630.82 L103.03 627.34 L104.33 623.79 L105.64 620.16 L106.94 616.47 L108.24 612.72 L109.55 608.92 L110.85 605.08 L112.16 601.2 L113.46 597.31 L114.76 593.4 L116.07 589.49 L117.37 585.58 L118.67 581.69 L119.98 577.82 L121.28 573.99 L122.59 570.2 L123.89 566.47 L125.19 562.79 L126.5 559.19 L127.8 555.66 L129.11 552.22 L130.41 548.87 L131.71 545.63 L133.02 542.48 L134.32 539.45 L135.63 536.54 L136.93 533.75 L138.23 531.09 L139.54 528.55 L140.84 526.15 L142.15 523.88 L143.45 521.76 L144.75 519.76 L146.06 517.91 L147.36 516.2 L148.67 514.63 L149.97 513.19 L151.27 511.89 L152.58 510.72 L153.88 509.68 L155.18 508.78 L156.49 507.99 L157.79 507.33 L159.1 506.78 L160.4 506.34 L161.7 506 L163.01 505.76 L164.31 505.6 L165.62 505.52 L166.92 505.5 L168.22 505.55 L169.53 505.67 L170.83 505.87 L172.14 506.16 L173.44 506.52 L174.74 506.96 L176.05 507.48 L177.35 508.07 L178.66 508.73 L179.96 509.47 L181.26 510.27 L182.57 511.14 L183.87 512.07 L185.18 513.07 L186.48 514.12 L187.78 515.24 L189.09 516.41 L190.39 517.64 L191.7 518.92 L193 520.26 L194.3 521.64 L195.61 523.06 L196.91 524.53 L198.21 526.05 L199.52 527.6 L200.82 529.19 L202.13 530.82 L203.43 532.48 L204.73 534.18 L206.04 535.9 L207.34 537.65 L208.65 539.43 L209.95 541.23 L211.25 543.05 L212.56 544.89 L213.86 546.75 L215.17 548.63 L216.47 550.52 L217.77 552.42 L219.08 554.34 L220.38 556.26 L221.69 558.19 L222.99 560.13 L224.29 562.07 L225.6 564.02 L226.9 565.96 L228.21 567.91 L229.51 569.86 L230.81 571.8 L232.12 573.74 L233.42 575.67 L234.72 577.6 L236.03 579.52 L237.33 581.43 L238.64 583.34 L239.94 585.23 L241.24 587.11 L242.55 588.98 L243.85 590.83 L245.16 592.67 L246.46 594.5 L247.76 596.31 L249.07 598.1 L250.37 599.88 L251.68 601.64 L252.98 603.38 L254.28 605.1 L255.59 606.81 L256.89 608.49 L258.2 610.15 L259.5 611.8 L260.8 613.42 L262.11 615.02 L263.41 616.6 L264.72 618.16 L266.02 619.7 L267.32 621.21 L268.63 622.71 L269.93 624.18 L271.24 625.62 L272.54 627.05 L273.84 628.45 L275.15 629.83 L276.45 631.19 L277.75 632.52 L279.06 633.83 L280.36 635.12 L281.67 636.39 L282.97 637.63 L284.27 638.85 L285.58 640.05 L286.88 641.23 L288.19 642.38 L289.49 643.51 L290.79 644.62 L292.1 645.71 L293.4 646.78 L294.71 647.82 L296.01 648.85 L297.31 649.85 L298.62 650.83 L299.92 651.79 L301.23 652.74 L302.53 653.66 L303.83 654.56 L305.14 655.44 L306.44 656.31 L307.75 657.15 L309.05 657.98 L310.35 658.78 L311.66 659.57 L312.96 660.34 L314.26 661.09 L315.57 661.83 L316.87 662.55 L318.18 663.25 L319.48 663.94 L320.78 664.61 L322.09 665.26 L323.39 665.9 L324.7 666.52 L326 667.12 L327.3 667.72 L328.61 668.29 L329.91 668.86 L331.22 669.41 L332.52 669.94 L333.82 670.46 L335.13 670.97 L336.43 671.47 L337.74 671.95 L339.04 672.42 L340.34 672.88 L341.65 673.33 L342.95 673.76 L344.26 674.19 L345.56 674.6 L346.86 675 L348.17 675.39 L349.47 675.77 L350.78 676.14 L352.08 676.5 L353.38 676.86 L354.69 677.2 L355.99 677.53 L357.29 677.85 L358.6 678.17 L359.9 678.47 L361.21 678.77 L362.51 679.06 L363.81 679.34 L365.12 679.61 L366.42 679.88 L367.73 680.14 L369.03 680.39 L370.33 680.63 L371.64 680.87 L372.94 681.1 L374.25 681.33 L375.55 681.54 L376.85 681.76 L378.16 681.96 L379.46 682.16 L380.77 682.35 L382.07 682.54 L383.37 682.73 L384.68 682.9 L385.98 683.08 L387.29 683.24 L388.59 683.41 L389.89 683.56 L391.2 683.72 L392.5 683.86 L393.8 684.01 L395.11 684.15 L396.41 684.29 L397.72 684.42 L399.02 684.55 L400.32 684.67 L401.63 684.79 L402.93 684.91 L404.24 685.02 L405.54 685.13 L406.84 685.24 L408.15 685.34 L409.45 685.44 L410.76 685.54 L412.06 685.63 L413.36 685.73 L414.67 685.81 L415.97 685.9 L417.28 685.98 L418.58 686.07 L419.88 686.14 L421.19 686.22 L422.49 686.3 L423.8 686.37 L425.1 686.44 L426.4 686.5 L427.71 686.57 L429.01 686.63 L430.32 686.69 L431.62 686.75 L432.92 686.81 L434.23 686.87 L435.53 686.92 L436.83 686.97 L438.14 687.03 L439.44 687.07 L440.75 687.12 L442.05 687.17 L443.35 687.21 L444.66 687.26 L445.96 687.3 L447.27 687.34 L448.57 687.38 L449.87 687.42 L451.18 687.46 L452.48 687.49 L453.79 687.53 L455.09 687.56 L456.39 687.59 L457.7 687.63 L459 687.66 L460.31 687.69 L461.61 687.71 L462.91 687.74 L464.22 687.77 L465.52 687.8 L466.83 687.82 L468.13 687.85 L469.43 687.87 L470.74 687.89 L472.04 687.92 L473.34 687.94 L474.65 687.96 L475.95 687.98 L477.26 688 L478.56 688.02 L479.86 688.04 L481.17 688.05 L482.47 688.07 L483.78 688.09 L485.08 688.1 L486.38 688.12 L487.69 688.14 L488.99 688.15 L490.3 688.16 L491.6 688.18" stroke="#f04850" stroke-width="2.5" fill="none" stroke-linejoin="round"/>
<path d="M93.9 652.08 L95.2 649.34 L96.51 646.48 L97.81 643.52 L99.12 640.44 L100.42 637.27 L101.72 634 L103.03 630.64 L104.33 627.19 L105.64 623.67 L106.94 620.08 L108.24 616.42 L109.55 612.7 L110.85 608.94 L112.16 605.14 L113.46 601.31 L114.76 597.46 L116.07 593.6 L117.37 589.74 L118.67 585.88 L119.98 582.05 L121.28 578.23 L122.59 574.45 L123.89 570.72 L125.19 567.04 L126.5 563.42 L127.8 559.87 L129.11 556.4 L130.41 553.01 L131.71 549.72 L133.02 546.53 L134.32 543.44 L135.63 540.46 L136.93 537.59 L138.23 534.85 L139.54 532.23 L140.84 529.74 L142.15 527.38 L143.45 525.15 L144.75 523.06 L146.06 521.11 L147.36 519.29 L148.67 517.61 L149.97 516.06 L151.27 514.65 L152.58 513.37 L153.88 512.23 L155.18 511.21 L156.49 510.32 L157.79 509.55 L159.1 508.9 L160.4 508.36 L161.7 507.93 L163.01 507.59 L164.31 507.36 L165.62 507.2 L166.92 507.12 L168.22 507.11 L169.53 507.15 L170.83 507.27 L172.14 507.47 L173.44 507.75 L174.74 508.11 L176.05 508.54 L177.35 509.05 L178.66 509.63 L179.96 510.28 L181.26 511 L182.57 511.79 L183.87 512.64 L185.18 513.56 L186.48 514.54 L187.78 515.58 L189.09 516.68 L190.39 517.83 L191.7 519.04 L193 520.3 L194.3 521.61 L195.61 522.97 L196.91 524.37 L198.21 525.82 L199.52 527.31 L200.82 528.84 L202.13 530.41 L203.43 532.01 L204.73 533.65 L206.04 535.31 L207.34 537.01 L208.65 538.73 L209.95 540.48 L211.25 542.26 L212.56 544.05 L213.86 545.87 L215.17 547.7 L216.47 549.55 L217.77 551.41 L219.08 553.29 L220.38 555.18 L221.69 557.07 L222.99 558.98 L224.29 560.89 L225.6 562.8 L226.9 564.72 L228.21 566.64 L229.51 568.56 L230.81 570.48 L232.12 572.4 L233.42 574.32 L234.72 576.22 L236.03 578.13 L237.33 580.02 L238.64 581.91 L239.94 583.79 L241.24 585.66 L242.55 587.52 L243.85 589.37 L245.16 591.2 L246.46 593.02 L247.76 594.82 L249.07 596.61 L250.37 598.39 L251.68 600.15 L252.98 601.89 L254.28 603.61 L255.59 605.32 L256.89 607 L258.2 608.67 L259.5 610.32 L260.8 611.95 L262.11 613.55 L263.41 615.14 L264.72 616.71 L266.02 618.25 L267.32 619.78 L268.63 621.28 L269.93 622.76 L271.24 624.22 L272.54 625.65 L273.84 627.07 L275.15 628.46 L276.45 629.83 L277.75 631.17 L279.06 632.5 L280.36 633.8 L281.67 635.08 L282.97 636.34 L284.27 637.57 L285.58 638.79 L286.88 639.98 L288.19 641.15 L289.49 642.29 L290.79 643.42 L292.1 644.52 L293.4 645.61 L294.71 646.67 L296.01 647.71 L297.31 648.73 L298.62 649.73 L299.92 650.7 L301.23 651.66 L302.53 652.6 L303.83 653.52 L305.14 654.42 L306.44 655.3 L307.75 656.16 L309.05 657 L310.35 657.82 L311.66 658.63 L312.96 659.42 L314.26 660.19 L315.57 660.94 L316.87 661.67 L318.18 662.39 L319.48 663.09 L320.78 663.78 L322.09 664.44 L323.39 665.1 L324.7 665.73 L326 666.36 L327.3 666.96 L328.61 667.56 L329.91 668.13 L331.22 668.7 L332.52 669.25 L333.82 669.78 L335.13 670.31 L336.43 670.82 L337.74 671.31 L339.04 671.8 L340.34 672.27 L341.65 672.73 L342.95 673.18 L344.26 673.61 L345.56 674.04 L346.86 674.45 L348.17 674.86 L349.47 675.25 L350.78 675.63 L352.08 676 L353.38 676.36 L354.69 676.72 L355.99 677.06 L357.29 677.39 L358.6 677.72 L359.9 678.04 L361.21 678.34 L362.51 678.64 L363.81 678.93 L365.12 679.22 L366.42 679.49 L367.73 679.76 L369.03 680.02 L370.33 680.27 L371.64 680.52 L372.94 680.76 L374.25 680.99 L375.55 681.22 L376.85 681.44 L378.16 681.65 L379.46 681.86 L380.77 682.06 L382.07 682.25 L383.37 682.44 L384.68 682.63 L385.98 682.81 L387.29 682.98 L388.59 683.15 L389.89 683.31 L391.2 683.47 L392.5 683.63 L393.8 683.78 L395.11 683.92 L396.41 684.07 L397.72 684.2 L399.02 684.34 L400.32 684.47 L401.63 684.59 L402.93 684.72 L404.24 684.83 L405.54 684.95 L406.84 685.06 L408.15 685.17 L409.45 685.27 L410.76 685.38 L412.06 685.47 L413.36 685.57 L414.67 685.66 L415.97 685.75 L417.28 685.84 L418.58 685.93 L419.88 686.01 L421.19 686.09 L422.49 686.17 L423.8 686.24 L425.1 686.31 L426.4 686.39 L427.71 686.45 L429.01 686.52 L430.32 686.59 L431.62 686.65 L432.92 686.71 L434.23 686.77 L435.53 686.82 L436.83 686.88 L438.14 686.93 L439.44 686.98 L440.75 687.04 L442.05 687.08 L443.35 687.13 L444.66 687.18 L445.96 687.22 L447.27 687.26 L448.57 687.31 L449.87 687.35 L451.18 687.39 L452.48 687.42 L453.79 687.46 L455.09 687.5 L456.39 687.53 L457.7 687.56 L459 687.6 L460.31 687.63 L461.61 687.66 L462.91 687.69 L464.22 687.72 L465.52 687.74 L466.83 687.77 L468.13 687.8 L469.43 687.82 L470.74 687.85 L472.04 687.87 L473.34 687.89 L474.65 687.92 L475.95 687.94 L477.26 687.96 L478.56 687.98 L479.86 688 L481.17 688.02 L482.47 688.04 L483.78 688.05 L485.08 688.07 L486.38 688.09 L487.69 688.1 L488.99 688.12 L490.3 688.13 L491.6 688.15" stroke="#2f6fe0" stroke-width="2.5" fill="none" stroke-linejoin="round"/>
<path d="M93.9 641.72 L95.2 638.19 L96.51 634.53 L97.81 630.72 L99.12 626.77 L100.42 622.7 L101.72 618.5 L103.03 614.19 L104.33 609.76 L105.64 605.24 L106.94 600.62 L108.24 595.93 L109.55 591.16 L110.85 586.33 L112.16 581.45 L113.46 576.54 L114.76 571.6 L116.07 566.64 L117.37 561.68 L118.67 556.73 L119.98 551.8 L121.28 546.9 L122.59 542.05 L123.89 537.26 L125.19 532.54 L126.5 527.89 L127.8 523.33 L129.11 518.88 L130.41 514.53 L131.71 510.3 L133.02 506.2 L134.32 502.23 L135.63 498.41 L136.93 494.73 L138.23 491.21 L139.54 487.85 L140.84 484.65 L142.15 481.62 L143.45 478.76 L144.75 476.08 L146.06 473.57 L147.36 471.23 L148.67 469.07 L149.97 467.09 L151.27 465.28 L152.58 463.64 L153.88 462.17 L155.18 460.86 L156.49 459.72 L157.79 458.73 L159.1 457.89 L160.4 457.2 L161.7 456.64 L163.01 456.22 L164.31 455.91 L165.62 455.72 L166.92 455.62 L168.22 455.59 L169.53 455.64 L170.83 455.8 L172.14 456.06 L173.44 456.42 L174.74 456.88 L176.05 457.43 L177.35 458.09 L178.66 458.83 L179.96 459.67 L181.26 460.59 L182.57 461.6 L183.87 462.7 L185.18 463.88 L186.48 465.14 L187.78 466.47 L189.09 467.88 L190.39 469.36 L191.7 470.91 L193 472.53 L194.3 474.21 L195.61 475.96 L196.91 477.76 L198.21 479.62 L199.52 481.53 L200.82 483.49 L202.13 485.51 L203.43 487.56 L204.73 489.66 L206.04 491.8 L207.34 493.98 L208.65 496.2 L209.95 498.44 L211.25 500.72 L212.56 503.02 L213.86 505.35 L215.17 507.71 L216.47 510.08 L217.77 512.47 L219.08 514.88 L220.38 517.31 L221.69 519.74 L222.99 522.19 L224.29 524.64 L225.6 527.1 L226.9 529.56 L228.21 532.03 L229.51 534.49 L230.81 536.96 L232.12 539.42 L233.42 541.88 L234.72 544.33 L236.03 546.77 L237.33 549.21 L238.64 551.63 L239.94 554.04 L241.24 556.44 L242.55 558.83 L243.85 561.2 L245.16 563.55 L246.46 565.89 L247.76 568.21 L249.07 570.5 L250.37 572.78 L251.68 575.04 L252.98 577.27 L254.28 579.49 L255.59 581.68 L256.89 583.84 L258.2 585.98 L259.5 588.1 L260.8 590.19 L262.11 592.25 L263.41 594.29 L264.72 596.3 L266.02 598.28 L267.32 600.24 L268.63 602.17 L269.93 604.07 L271.24 605.94 L272.54 607.78 L273.84 609.6 L275.15 611.38 L276.45 613.14 L277.75 614.87 L279.06 616.57 L280.36 618.24 L281.67 619.89 L282.97 621.5 L284.27 623.09 L285.58 624.64 L286.88 626.17 L288.19 627.68 L289.49 629.15 L290.79 630.59 L292.1 632.01 L293.4 633.4 L294.71 634.76 L296.01 636.1 L297.31 637.41 L298.62 638.69 L299.92 639.95 L301.23 641.18 L302.53 642.38 L303.83 643.56 L305.14 644.71 L306.44 645.84 L307.75 646.95 L309.05 648.03 L310.35 649.09 L311.66 650.12 L312.96 651.13 L314.26 652.12 L315.57 653.08 L316.87 654.03 L318.18 654.95 L319.48 655.85 L320.78 656.73 L322.09 657.59 L323.39 658.42 L324.7 659.24 L326 660.04 L327.3 660.82 L328.61 661.58 L329.91 662.32 L331.22 663.05 L332.52 663.75 L333.82 664.44 L335.13 665.11 L336.43 665.77 L337.74 666.4 L339.04 667.02 L340.34 667.63 L341.65 668.22 L342.95 668.8 L344.26 669.36 L345.56 669.9 L346.86 670.43 L348.17 670.95 L349.47 671.46 L350.78 671.95 L352.08 672.42 L353.38 672.89 L354.69 673.34 L355.99 673.78 L357.29 674.21 L358.6 674.63 L359.9 675.03 L361.21 675.43 L362.51 675.81 L363.81 676.19 L365.12 676.55 L366.42 676.9 L367.73 677.25 L369.03 677.58 L370.33 677.91 L371.64 678.22 L372.94 678.53 L374.25 678.83 L375.55 679.12 L376.85 679.4 L378.16 679.67 L379.46 679.94 L380.77 680.2 L382.07 680.45 L383.37 680.69 L384.68 680.93 L385.98 681.16 L387.29 681.38 L388.59 681.6 L389.89 681.81 L391.2 682.02 L392.5 682.22 L393.8 682.41 L395.11 682.6 L396.41 682.78 L397.72 682.95 L399.02 683.13 L400.32 683.29 L401.63 683.45 L402.93 683.61 L404.24 683.76 L405.54 683.91 L406.84 684.05 L408.15 684.19 L409.45 684.33 L410.76 684.46 L412.06 684.59 L413.36 684.71 L414.67 684.83 L415.97 684.94 L417.28 685.06 L418.58 685.17 L419.88 685.27 L421.19 685.37 L422.49 685.47 L423.8 685.57 L425.1 685.66 L426.4 685.75 L427.71 685.84 L429.01 685.93 L430.32 686.01 L431.62 686.09 L432.92 686.17 L434.23 686.24 L435.53 686.32 L436.83 686.39 L438.14 686.46 L439.44 686.52 L440.75 686.59 L442.05 686.65 L443.35 686.71 L444.66 686.77 L445.96 686.83 L447.27 686.88 L448.57 686.94 L449.87 686.99 L451.18 687.04 L452.48 687.09 L453.79 687.13 L455.09 687.18 L456.39 687.23 L457.7 687.27 L459 687.31 L460.31 687.35 L461.61 687.39 L462.91 687.43 L464.22 687.46 L465.52 687.5 L466.83 687.53 L468.13 687.57 L469.43 687.6 L470.74 687.63 L472.04 687.66 L473.34 687.69 L474.65 687.72 L475.95 687.75 L477.26 687.77 L478.56 687.8 L479.86 687.83 L481.17 687.85 L482.47 687.87 L483.78 687.9 L485.08 687.92 L486.38 687.94 L487.69 687.96 L488.99 687.98 L490.3 688 L491.6 688.02" stroke="#3aaa6a" stroke-width="2.5" fill="none" stroke-linejoin="round"/>
<path d="M93.9 628.58 L95.2 624.35 L96.51 619.96 L97.81 615.42 L99.12 610.74 L100.42 605.92 L101.72 600.98 L103.03 595.92 L104.33 590.74 L105.64 585.47 L106.94 580.11 L108.24 574.67 L109.55 569.17 L110.85 563.61 L112.16 558.01 L113.46 552.38 L114.76 546.74 L116.07 541.09 L117.37 535.46 L118.67 529.84 L119.98 524.27 L121.28 518.74 L122.59 513.28 L123.89 507.89 L125.19 502.59 L126.5 497.39 L127.8 492.29 L129.11 487.32 L130.41 482.47 L131.71 477.77 L133.02 473.21 L134.32 468.8 L135.63 464.56 L136.93 460.49 L138.23 456.6 L139.54 452.88 L140.84 449.35 L142.15 446.01 L143.45 442.86 L144.75 439.91 L146.06 437.14 L147.36 434.58 L148.67 432.2 L149.97 430.02 L151.27 428.04 L152.58 426.24 L153.88 424.62 L155.18 423.19 L156.49 421.94 L157.79 420.86 L159.1 419.94 L160.4 419.18 L161.7 418.57 L163.01 418.11 L164.31 417.77 L165.62 417.56 L166.92 417.45 L168.22 417.42 L169.53 417.48 L170.83 417.66 L172.14 417.97 L173.44 418.38 L174.74 418.92 L176.05 419.57 L177.35 420.32 L178.66 421.19 L179.96 422.17 L181.26 423.24 L182.57 424.42 L183.87 425.7 L185.18 427.07 L186.48 428.53 L187.78 430.09 L189.09 431.73 L190.39 433.45 L191.7 435.26 L193 437.14 L194.3 439.1 L195.61 441.13 L196.91 443.22 L198.21 445.39 L199.52 447.61 L200.82 449.9 L202.13 452.24 L203.43 454.63 L204.73 457.08 L206.04 459.57 L207.34 462.1 L208.65 464.68 L209.95 467.29 L211.25 469.94 L212.56 472.62 L213.86 475.34 L215.17 478.07 L216.47 480.84 L217.77 483.62 L219.08 486.43 L220.38 489.25 L221.69 492.08 L222.99 494.92 L224.29 497.78 L225.6 500.64 L226.9 503.51 L228.21 506.38 L229.51 509.25 L230.81 512.12 L232.12 514.98 L233.42 517.84 L234.72 520.69 L236.03 523.54 L237.33 526.37 L238.64 529.19 L239.94 532 L241.24 534.79 L242.55 537.57 L243.85 540.33 L245.16 543.07 L246.46 545.79 L247.76 548.48 L249.07 551.16 L250.37 553.81 L251.68 556.44 L252.98 559.04 L254.28 561.61 L255.59 564.16 L256.89 566.68 L258.2 569.17 L259.5 571.63 L260.8 574.07 L262.11 576.47 L263.41 578.84 L264.72 581.18 L266.02 583.49 L267.32 585.76 L268.63 588.01 L269.93 590.22 L271.24 592.4 L272.54 594.54 L273.84 596.66 L275.15 598.73 L276.45 600.78 L277.75 602.79 L279.06 604.77 L280.36 606.72 L281.67 608.63 L282.97 610.51 L284.27 612.35 L285.58 614.17 L286.88 615.95 L288.19 617.69 L289.49 619.41 L290.79 621.09 L292.1 622.74 L293.4 624.36 L294.71 625.94 L296.01 627.5 L297.31 629.02 L298.62 630.51 L299.92 631.98 L301.23 633.41 L302.53 634.81 L303.83 636.18 L305.14 637.53 L306.44 638.84 L307.75 640.13 L309.05 641.38 L310.35 642.61 L311.66 643.82 L312.96 644.99 L314.26 646.14 L315.57 647.27 L316.87 648.36 L318.18 649.44 L319.48 650.48 L320.78 651.51 L322.09 652.5 L323.39 653.48 L324.7 654.43 L326 655.36 L327.3 656.27 L328.61 657.15 L329.91 658.02 L331.22 658.86 L332.52 659.68 L333.82 660.48 L335.13 661.26 L336.43 662.02 L337.74 662.77 L339.04 663.49 L340.34 664.19 L341.65 664.88 L342.95 665.55 L344.26 666.2 L345.56 666.84 L346.86 667.46 L348.17 668.06 L349.47 668.65 L350.78 669.22 L352.08 669.77 L353.38 670.31 L354.69 670.84 L355.99 671.35 L357.29 671.85 L358.6 672.34 L359.9 672.81 L361.21 673.27 L362.51 673.72 L363.81 674.15 L365.12 674.58 L366.42 674.99 L367.73 675.39 L369.03 675.78 L370.33 676.15 L371.64 676.52 L372.94 676.88 L374.25 677.23 L375.55 677.56 L376.85 677.89 L378.16 678.21 L379.46 678.52 L380.77 678.82 L382.07 679.11 L383.37 679.4 L384.68 679.67 L385.98 679.94 L387.29 680.2 L388.59 680.45 L389.89 680.7 L391.2 680.94 L392.5 681.17 L393.8 681.39 L395.11 681.61 L396.41 681.82 L397.72 682.03 L399.02 682.23 L400.32 682.42 L401.63 682.61 L402.93 682.79 L404.24 682.97 L405.54 683.14 L406.84 683.31 L408.15 683.47 L409.45 683.63 L410.76 683.78 L412.06 683.93 L413.36 684.07 L414.67 684.21 L415.97 684.34 L417.28 684.47 L418.58 684.6 L419.88 684.73 L421.19 684.84 L422.49 684.96 L423.8 685.07 L425.1 685.18 L426.4 685.29 L427.71 685.39 L429.01 685.49 L430.32 685.59 L431.62 685.68 L432.92 685.77 L434.23 685.86 L435.53 685.94 L436.83 686.02 L438.14 686.1 L439.44 686.18 L440.75 686.26 L442.05 686.33 L443.35 686.4 L444.66 686.47 L445.96 686.54 L447.27 686.6 L448.57 686.66 L449.87 686.72 L451.18 686.78 L452.48 686.84 L453.79 686.89 L455.09 686.95 L456.39 687 L457.7 687.05 L459 687.1 L460.31 687.14 L461.61 687.19 L462.91 687.23 L464.22 687.28 L465.52 687.32 L466.83 687.36 L468.13 687.4 L469.43 687.43 L470.74 687.47 L472.04 687.51 L473.34 687.54 L474.65 687.57 L475.95 687.61 L477.26 687.64 L478.56 687.67 L479.86 687.7 L481.17 687.73 L482.47 687.75 L483.78 687.78 L485.08 687.81 L486.38 687.83 L487.69 687.85 L488.99 687.88 L490.3 687.9 L491.6 687.92" stroke="#b27ae6" stroke-width="2.5" fill="none" stroke-linejoin="round" stroke-dasharray="11 10"/>
<path d="M93.9 650.69 L95.2 647.84 L96.51 644.87 L97.81 641.79 L99.12 638.6 L100.42 635.31 L101.72 631.91 L103.03 628.42 L104.33 624.85 L105.64 621.19 L106.94 617.46 L108.24 613.66 L109.55 609.8 L110.85 605.9 L112.16 601.95 L113.46 597.98 L114.76 593.98 L116.07 589.97 L117.37 585.96 L118.67 581.96 L119.98 577.97 L121.28 574.01 L122.59 570.09 L123.89 566.21 L125.19 562.39 L126.5 558.63 L127.8 554.95 L129.11 551.35 L130.41 547.83 L131.71 544.41 L133.02 541.09 L134.32 537.88 L135.63 534.79 L136.93 531.82 L138.23 528.97 L139.54 526.25 L140.84 523.67 L142.15 521.22 L143.45 518.9 L144.75 516.73 L146.06 514.7 L147.36 512.81 L148.67 511.07 L149.97 509.46 L151.27 508 L152.58 506.67 L153.88 505.48 L155.18 504.43 L156.49 503.5 L157.79 502.7 L159.1 502.03 L160.4 501.47 L161.7 501.02 L163.01 500.67 L164.31 500.43 L165.62 500.27 L166.92 500.19 L168.22 500.17 L169.53 500.21 L170.83 500.33 L172.14 500.54 L173.44 500.83 L174.74 501.21 L176.05 501.66 L177.35 502.18 L178.66 502.79 L179.96 503.46 L181.26 504.21 L182.57 505.03 L183.87 505.92 L185.18 506.87 L186.48 507.89 L187.78 508.97 L189.09 510.11 L190.39 511.3 L191.7 512.56 L193 513.87 L194.3 515.23 L195.61 516.64 L196.91 518.09 L198.21 519.6 L199.52 521.14 L200.82 522.73 L202.13 524.36 L203.43 526.02 L204.73 527.72 L206.04 529.45 L207.34 531.21 L208.65 533 L209.95 534.82 L211.25 536.66 L212.56 538.52 L213.86 540.41 L215.17 542.31 L216.47 544.23 L217.77 546.17 L219.08 548.11 L220.38 550.07 L221.69 552.04 L222.99 554.02 L224.29 556 L225.6 557.99 L226.9 559.99 L228.21 561.98 L229.51 563.97 L230.81 565.97 L232.12 567.96 L233.42 569.95 L234.72 571.93 L236.03 573.9 L237.33 575.87 L238.64 577.83 L239.94 579.78 L241.24 581.73 L242.55 583.65 L243.85 585.57 L245.16 587.47 L246.46 589.36 L247.76 591.24 L249.07 593.1 L250.37 594.94 L251.68 596.76 L252.98 598.57 L254.28 600.36 L255.59 602.13 L256.89 603.88 L258.2 605.61 L259.5 607.32 L260.8 609.01 L262.11 610.68 L263.41 612.33 L264.72 613.96 L266.02 615.56 L267.32 617.14 L268.63 618.7 L269.93 620.24 L271.24 621.75 L272.54 623.24 L273.84 624.71 L275.15 626.16 L276.45 627.58 L277.75 628.98 L279.06 630.35 L280.36 631.7 L281.67 633.03 L282.97 634.34 L284.27 635.62 L285.58 636.88 L286.88 638.12 L288.19 639.33 L289.49 640.52 L290.79 641.69 L292.1 642.84 L293.4 643.96 L294.71 645.06 L296.01 646.14 L297.31 647.2 L298.62 648.24 L299.92 649.26 L301.23 650.25 L302.53 651.22 L303.83 652.18 L305.14 653.11 L306.44 654.02 L307.75 654.92 L309.05 655.79 L310.35 656.65 L311.66 657.48 L312.96 658.3 L314.26 659.1 L315.57 659.88 L316.87 660.64 L318.18 661.39 L319.48 662.12 L320.78 662.83 L322.09 663.52 L323.39 664.2 L324.7 664.86 L326 665.51 L327.3 666.14 L328.61 666.75 L329.91 667.35 L331.22 667.94 L332.52 668.51 L333.82 669.06 L335.13 669.61 L336.43 670.14 L337.74 670.65 L339.04 671.15 L340.34 671.64 L341.65 672.12 L342.95 672.59 L344.26 673.04 L345.56 673.48 L346.86 673.91 L348.17 674.33 L349.47 674.74 L350.78 675.13 L352.08 675.52 L353.38 675.9 L354.69 676.26 L355.99 676.62 L357.29 676.97 L358.6 677.3 L359.9 677.63 L361.21 677.95 L362.51 678.26 L363.81 678.56 L365.12 678.86 L366.42 679.14 L367.73 679.42 L369.03 679.69 L370.33 679.95 L371.64 680.21 L372.94 680.46 L374.25 680.7 L375.55 680.93 L376.85 681.16 L378.16 681.38 L379.46 681.6 L380.77 681.81 L382.07 682.01 L383.37 682.21 L384.68 682.4 L385.98 682.58 L387.29 682.77 L388.59 682.94 L389.89 683.11 L391.2 683.28 L392.5 683.44 L393.8 683.59 L395.11 683.75 L396.41 683.89 L397.72 684.04 L399.02 684.17 L400.32 684.31 L401.63 684.44 L402.93 684.57 L404.24 684.69 L405.54 684.81 L406.84 684.92 L408.15 685.04 L409.45 685.15 L410.76 685.25 L412.06 685.36 L413.36 685.45 L414.67 685.55 L415.97 685.65 L417.28 685.74 L418.58 685.82 L419.88 685.91 L421.19 685.99 L422.49 686.07 L423.8 686.15 L425.1 686.23 L426.4 686.3 L427.71 686.37 L429.01 686.44 L430.32 686.51 L431.62 686.57 L432.92 686.64 L434.23 686.7 L435.53 686.76 L436.83 686.81 L438.14 686.87 L439.44 686.92 L440.75 686.97 L442.05 687.03 L443.35 687.07 L444.66 687.12 L445.96 687.17 L447.27 687.21 L448.57 687.26 L449.87 687.3 L451.18 687.34 L452.48 687.38 L453.79 687.42 L455.09 687.45 L456.39 687.49 L457.7 687.52 L459 687.56 L460.31 687.59 L461.61 687.62 L462.91 687.65 L464.22 687.68 L465.52 687.71 L466.83 687.74 L468.13 687.77 L469.43 687.79 L470.74 687.82 L472.04 687.84 L473.34 687.87 L474.65 687.89 L475.95 687.91 L477.26 687.93 L478.56 687.95 L479.86 687.98 L481.17 688 L482.47 688.01 L483.78 688.03 L485.08 688.05 L486.38 688.07 L487.69 688.08 L488.99 688.1 L490.3 688.12 L491.6 688.13" stroke="#d8a535" stroke-width="2.5" fill="none" stroke-linejoin="round"/>
<path d="M93.9 661.75 L95.2 659.73 L96.51 657.63 L97.81 655.45 L99.12 653.19 L100.42 650.86 L101.72 648.46 L103.03 645.98 L104.33 643.45 L105.64 640.86 L106.94 638.22 L108.24 635.53 L109.55 632.8 L110.85 630.03 L112.16 627.24 L113.46 624.42 L114.76 621.59 L116.07 618.75 L117.37 615.91 L118.67 613.08 L119.98 610.25 L121.28 607.45 L122.59 604.67 L123.89 601.93 L125.19 599.22 L126.5 596.56 L127.8 593.95 L129.11 591.4 L130.41 588.91 L131.71 586.48 L133.02 584.14 L134.32 581.86 L135.63 579.67 L136.93 577.57 L138.23 575.55 L139.54 573.63 L140.84 571.79 L142.15 570.06 L143.45 568.42 L144.75 566.88 L146.06 565.45 L147.36 564.11 L148.67 562.87 L149.97 561.73 L151.27 560.7 L152.58 559.76 L153.88 558.92 L155.18 558.17 L156.49 557.51 L157.79 556.95 L159.1 556.47 L160.4 556.07 L161.7 555.75 L163.01 555.51 L164.31 555.33 L165.62 555.22 L166.92 555.16 L168.22 555.15 L169.53 555.18 L170.83 555.27 L172.14 555.42 L173.44 555.62 L174.74 555.89 L176.05 556.21 L177.35 556.58 L178.66 557.01 L179.96 557.48 L181.26 558.01 L182.57 558.59 L183.87 559.22 L185.18 559.9 L186.48 560.62 L187.78 561.38 L189.09 562.19 L190.39 563.04 L191.7 563.93 L193 564.85 L194.3 565.82 L195.61 566.82 L196.91 567.85 L198.21 568.91 L199.52 570.01 L200.82 571.13 L202.13 572.28 L203.43 573.46 L204.73 574.66 L206.04 575.89 L207.34 577.14 L208.65 578.41 L209.95 579.69 L211.25 581 L212.56 582.32 L213.86 583.65 L215.17 585 L216.47 586.36 L217.77 587.73 L219.08 589.11 L220.38 590.5 L221.69 591.89 L222.99 593.29 L224.29 594.7 L225.6 596.11 L226.9 597.52 L228.21 598.93 L229.51 600.34 L230.81 601.75 L232.12 603.16 L233.42 604.57 L234.72 605.97 L236.03 607.37 L237.33 608.77 L238.64 610.16 L239.94 611.54 L241.24 612.91 L242.55 614.28 L243.85 615.64 L245.16 616.98 L246.46 618.32 L247.76 619.65 L249.07 620.97 L250.37 622.27 L251.68 623.56 L252.98 624.84 L254.28 626.11 L255.59 627.36 L256.89 628.6 L258.2 629.83 L259.5 631.04 L260.8 632.24 L262.11 633.42 L263.41 634.59 L264.72 635.74 L266.02 636.88 L267.32 638 L268.63 639.1 L269.93 640.19 L271.24 641.26 L272.54 642.32 L273.84 643.36 L275.15 644.38 L276.45 645.39 L277.75 646.38 L279.06 647.35 L280.36 648.31 L281.67 649.25 L282.97 650.17 L284.27 651.08 L285.58 651.97 L286.88 652.85 L288.19 653.71 L289.49 654.55 L290.79 655.38 L292.1 656.19 L293.4 656.99 L294.71 657.77 L296.01 658.53 L297.31 659.28 L298.62 660.02 L299.92 660.74 L301.23 661.44 L302.53 662.13 L303.83 662.81 L305.14 663.47 L306.44 664.12 L307.75 664.75 L309.05 665.37 L310.35 665.97 L311.66 666.57 L312.96 667.14 L314.26 667.71 L315.57 668.26 L316.87 668.8 L318.18 669.33 L319.48 669.85 L320.78 670.35 L322.09 670.84 L323.39 671.32 L324.7 671.79 L326 672.25 L327.3 672.69 L328.61 673.13 L329.91 673.55 L331.22 673.97 L332.52 674.37 L333.82 674.77 L335.13 675.15 L336.43 675.53 L337.74 675.89 L339.04 676.25 L340.34 676.59 L341.65 676.93 L342.95 677.26 L344.26 677.58 L345.56 677.89 L346.86 678.2 L348.17 678.5 L349.47 678.78 L350.78 679.07 L352.08 679.34 L353.38 679.61 L354.69 679.86 L355.99 680.12 L357.29 680.36 L358.6 680.6 L359.9 680.83 L361.21 681.06 L362.51 681.28 L363.81 681.49 L365.12 681.7 L366.42 681.9 L367.73 682.1 L369.03 682.29 L370.33 682.48 L371.64 682.66 L372.94 682.84 L374.25 683.01 L375.55 683.17 L376.85 683.33 L378.16 683.49 L379.46 683.64 L380.77 683.79 L382.07 683.94 L383.37 684.07 L384.68 684.21 L385.98 684.34 L387.29 684.47 L388.59 684.59 L389.89 684.72 L391.2 684.83 L392.5 684.95 L393.8 685.06 L395.11 685.16 L396.41 685.27 L397.72 685.37 L399.02 685.47 L400.32 685.56 L401.63 685.66 L402.93 685.75 L404.24 685.83 L405.54 685.92 L406.84 686 L408.15 686.08 L409.45 686.16 L410.76 686.23 L412.06 686.3 L413.36 686.37 L414.67 686.44 L415.97 686.51 L417.28 686.57 L418.58 686.64 L419.88 686.7 L421.19 686.76 L422.49 686.81 L423.8 686.87 L425.1 686.92 L426.4 686.97 L427.71 687.02 L429.01 687.07 L430.32 687.12 L431.62 687.17 L432.92 687.21 L434.23 687.25 L435.53 687.3 L436.83 687.34 L438.14 687.38 L439.44 687.41 L440.75 687.45 L442.05 687.49 L443.35 687.52 L444.66 687.56 L445.96 687.59 L447.27 687.62 L448.57 687.65 L449.87 687.68 L451.18 687.71 L452.48 687.74 L453.79 687.76 L455.09 687.79 L456.39 687.82 L457.7 687.84 L459 687.86 L460.31 687.89 L461.61 687.91 L462.91 687.93 L464.22 687.95 L465.52 687.97 L466.83 687.99 L468.13 688.01 L469.43 688.03 L470.74 688.05 L472.04 688.07 L473.34 688.08 L474.65 688.1 L475.95 688.12 L477.26 688.13 L478.56 688.15 L479.86 688.16 L481.17 688.17 L482.47 688.19 L483.78 688.2 L485.08 688.21 L486.38 688.23 L487.69 688.24 L488.99 688.25 L490.3 688.26 L491.6 688.27" stroke="#30d0d8" stroke-width="2.5" fill="none" stroke-linejoin="round"/>
<path d="M93.9 649.77 L95.2 646.86 L96.51 643.82 L97.81 640.66 L99.12 637.4 L100.42 634.02 L101.72 630.55 L103.03 626.97 L104.33 623.31 L105.64 619.56 L106.94 615.74 L108.24 611.85 L109.55 607.9 L110.85 603.91 L112.16 599.87 L113.46 595.79 L114.76 591.7 L116.07 587.6 L117.37 583.49 L118.67 579.39 L119.98 575.31 L121.28 571.25 L122.59 567.24 L123.89 563.27 L125.19 559.35 L126.5 555.5 L127.8 551.73 L129.11 548.04 L130.41 544.44 L131.71 540.94 L133.02 537.54 L134.32 534.26 L135.63 531.09 L136.93 528.04 L138.23 525.13 L139.54 522.34 L140.84 519.69 L142.15 517.19 L143.45 514.82 L144.75 512.59 L146.06 510.51 L147.36 508.58 L148.67 506.79 L149.97 505.15 L151.27 503.65 L152.58 502.29 L153.88 501.07 L155.18 499.99 L156.49 499.04 L157.79 498.23 L159.1 497.53 L160.4 496.96 L161.7 496.5 L163.01 496.15 L164.31 495.89 L165.62 495.73 L166.92 495.65 L168.22 495.63 L169.53 495.67 L170.83 495.8 L172.14 496.02 L173.44 496.31 L174.74 496.69 L176.05 497.15 L177.35 497.69 L178.66 498.31 L179.96 499 L181.26 499.77 L182.57 500.61 L183.87 501.52 L185.18 502.49 L186.48 503.53 L187.78 504.64 L189.09 505.81 L190.39 507.03 L191.7 508.32 L193 509.66 L194.3 511.05 L195.61 512.5 L196.91 513.99 L198.21 515.53 L199.52 517.11 L200.82 518.74 L202.13 520.4 L203.43 522.11 L204.73 523.85 L206.04 525.62 L207.34 527.42 L208.65 529.26 L209.95 531.12 L211.25 533 L212.56 534.91 L213.86 536.84 L215.17 538.79 L216.47 540.76 L217.77 542.74 L219.08 544.73 L220.38 546.74 L221.69 548.76 L222.99 550.78 L224.29 552.81 L225.6 554.85 L226.9 556.89 L228.21 558.93 L229.51 560.97 L230.81 563.01 L232.12 565.05 L233.42 567.09 L234.72 569.12 L236.03 571.14 L237.33 573.16 L238.64 575.17 L239.94 577.16 L241.24 579.15 L242.55 581.13 L243.85 583.09 L245.16 585.04 L246.46 586.97 L247.76 588.89 L249.07 590.8 L250.37 592.68 L251.68 594.55 L252.98 596.4 L254.28 598.24 L255.59 600.05 L256.89 601.84 L258.2 603.62 L259.5 605.37 L260.8 607.1 L262.11 608.81 L263.41 610.49 L264.72 612.16 L266.02 613.8 L267.32 615.42 L268.63 617.02 L269.93 618.59 L271.24 620.14 L272.54 621.67 L273.84 623.17 L275.15 624.65 L276.45 626.11 L277.75 627.54 L279.06 628.95 L280.36 630.33 L281.67 631.69 L282.97 633.03 L284.27 634.35 L285.58 635.64 L286.88 636.9 L288.19 638.14 L289.49 639.36 L290.79 640.56 L292.1 641.74 L293.4 642.89 L294.71 644.02 L296.01 645.12 L297.31 646.21 L298.62 647.27 L299.92 648.31 L301.23 649.33 L302.53 650.32 L303.83 651.3 L305.14 652.26 L306.44 653.19 L307.75 654.11 L309.05 655 L310.35 655.88 L311.66 656.73 L312.96 657.57 L314.26 658.39 L315.57 659.19 L316.87 659.97 L318.18 660.73 L319.48 661.48 L320.78 662.21 L322.09 662.92 L323.39 663.61 L324.7 664.29 L326 664.95 L327.3 665.59 L328.61 666.22 L329.91 666.84 L331.22 667.44 L332.52 668.02 L333.82 668.59 L335.13 669.15 L336.43 669.69 L337.74 670.22 L339.04 670.73 L340.34 671.24 L341.65 671.72 L342.95 672.2 L344.26 672.66 L345.56 673.12 L346.86 673.56 L348.17 673.99 L349.47 674.4 L350.78 674.81 L352.08 675.21 L353.38 675.59 L354.69 675.97 L355.99 676.33 L357.29 676.69 L358.6 677.03 L359.9 677.37 L361.21 677.69 L362.51 678.01 L363.81 678.32 L365.12 678.62 L366.42 678.92 L367.73 679.2 L369.03 679.48 L370.33 679.75 L371.64 680.01 L372.94 680.26 L374.25 680.51 L375.55 680.75 L376.85 680.98 L378.16 681.21 L379.46 681.43 L380.77 681.64 L382.07 681.85 L383.37 682.05 L384.68 682.25 L385.98 682.44 L387.29 682.62 L388.59 682.8 L389.89 682.98 L391.2 683.15 L392.5 683.31 L393.8 683.47 L395.11 683.63 L396.41 683.78 L397.72 683.93 L399.02 684.07 L400.32 684.21 L401.63 684.34 L402.93 684.47 L404.24 684.6 L405.54 684.72 L406.84 684.84 L408.15 684.95 L409.45 685.06 L410.76 685.17 L412.06 685.28 L413.36 685.38 L414.67 685.48 L415.97 685.57 L417.28 685.67 L418.58 685.76 L419.88 685.84 L421.19 685.93 L422.49 686.01 L423.8 686.09 L425.1 686.17 L426.4 686.25 L427.71 686.32 L429.01 686.39 L430.32 686.46 L431.62 686.52 L432.92 686.59 L434.23 686.65 L435.53 686.71 L436.83 686.77 L438.14 686.83 L439.44 686.88 L440.75 686.94 L442.05 686.99 L443.35 687.04 L444.66 687.09 L445.96 687.13 L447.27 687.18 L448.57 687.22 L449.87 687.27 L451.18 687.31 L452.48 687.35 L453.79 687.39 L455.09 687.43 L456.39 687.46 L457.7 687.5 L459 687.53 L460.31 687.57 L461.61 687.6 L462.91 687.63 L464.22 687.66 L465.52 687.69 L466.83 687.72 L468.13 687.75 L469.43 687.77 L470.74 687.8 L472.04 687.82 L473.34 687.85 L474.65 687.87 L475.95 687.9 L477.26 687.92 L478.56 687.94 L479.86 687.96 L481.17 687.98 L482.47 688 L483.78 688.02 L485.08 688.04 L486.38 688.05 L487.69 688.07 L488.99 688.09 L490.3 688.11 L491.6 688.12" stroke="#7f5a5f" stroke-width="2.5" fill="none" stroke-linejoin="round"/>
<path d="M93.9 645.48 L95.2 642.24 L96.51 638.86 L97.81 635.36 L99.12 631.73 L100.42 627.98 L101.72 624.12 L103.03 620.15 L104.33 616.09 L105.64 611.92 L106.94 607.68 L108.24 603.36 L109.55 598.97 L110.85 594.53 L112.16 590.05 L113.46 585.52 L114.76 580.98 L116.07 576.42 L117.37 571.86 L118.67 567.3 L119.98 562.77 L121.28 558.27 L122.59 553.81 L123.89 549.4 L125.19 545.05 L126.5 540.78 L127.8 536.59 L129.11 532.49 L130.41 528.49 L131.71 524.6 L133.02 520.82 L134.32 517.18 L135.63 513.66 L136.93 510.28 L138.23 507.04 L139.54 503.95 L140.84 501 L142.15 498.22 L143.45 495.59 L144.75 493.12 L146.06 490.81 L147.36 488.66 L148.67 486.67 L149.97 484.85 L151.27 483.18 L152.58 481.67 L153.88 480.32 L155.18 479.12 L156.49 478.07 L157.79 477.16 L159.1 476.39 L160.4 475.75 L161.7 475.24 L163.01 474.85 L164.31 474.57 L165.62 474.39 L166.92 474.3 L168.22 474.27 L169.53 474.32 L170.83 474.47 L172.14 474.7 L173.44 475.04 L174.74 475.46 L176.05 475.97 L177.35 476.57 L178.66 477.25 L179.96 478.02 L181.26 478.87 L182.57 479.81 L183.87 480.81 L185.18 481.9 L186.48 483.06 L187.78 484.28 L189.09 485.58 L190.39 486.94 L191.7 488.37 L193 489.86 L194.3 491.41 L195.61 493.01 L196.91 494.67 L198.21 496.38 L199.52 498.14 L200.82 499.94 L202.13 501.79 L203.43 503.68 L204.73 505.62 L206.04 507.58 L207.34 509.59 L208.65 511.62 L209.95 513.69 L211.25 515.78 L212.56 517.9 L213.86 520.05 L215.17 522.21 L216.47 524.4 L217.77 526.6 L219.08 528.81 L220.38 531.04 L221.69 533.28 L222.99 535.53 L224.29 537.79 L225.6 540.05 L226.9 542.31 L228.21 544.58 L229.51 546.85 L230.81 549.12 L232.12 551.38 L233.42 553.64 L234.72 555.9 L236.03 558.14 L237.33 560.38 L238.64 562.61 L239.94 564.83 L241.24 567.04 L242.55 569.23 L243.85 571.41 L245.16 573.58 L246.46 575.73 L247.76 577.86 L249.07 579.97 L250.37 582.07 L251.68 584.15 L252.98 586.2 L254.28 588.24 L255.59 590.25 L256.89 592.24 L258.2 594.21 L259.5 596.16 L260.8 598.08 L262.11 599.98 L263.41 601.85 L264.72 603.7 L266.02 605.53 L267.32 607.32 L268.63 609.1 L269.93 610.85 L271.24 612.57 L272.54 614.26 L273.84 615.93 L275.15 617.58 L276.45 619.19 L277.75 620.78 L279.06 622.35 L280.36 623.89 L281.67 625.4 L282.97 626.88 L284.27 628.34 L285.58 629.77 L286.88 631.18 L288.19 632.56 L289.49 633.92 L290.79 635.25 L292.1 636.55 L293.4 637.83 L294.71 639.08 L296.01 640.31 L297.31 641.51 L298.62 642.69 L299.92 643.85 L301.23 644.98 L302.53 646.09 L303.83 647.17 L305.14 648.23 L306.44 649.27 L307.75 650.29 L309.05 651.28 L310.35 652.26 L311.66 653.21 L312.96 654.14 L314.26 655.04 L315.57 655.93 L316.87 656.8 L318.18 657.65 L319.48 658.48 L320.78 659.28 L322.09 660.07 L323.39 660.84 L324.7 661.6 L326 662.33 L327.3 663.05 L328.61 663.75 L329.91 664.43 L331.22 665.1 L332.52 665.74 L333.82 666.38 L335.13 667 L336.43 667.6 L337.74 668.18 L339.04 668.76 L340.34 669.31 L341.65 669.86 L342.95 670.38 L344.26 670.9 L345.56 671.4 L346.86 671.89 L348.17 672.37 L349.47 672.83 L350.78 673.28 L352.08 673.72 L353.38 674.15 L354.69 674.57 L355.99 674.97 L357.29 675.37 L358.6 675.75 L359.9 676.12 L361.21 676.49 L362.51 676.84 L363.81 677.18 L365.12 677.52 L366.42 677.84 L367.73 678.16 L369.03 678.47 L370.33 678.76 L371.64 679.06 L372.94 679.34 L374.25 679.61 L375.55 679.88 L376.85 680.14 L378.16 680.39 L379.46 680.63 L380.77 680.87 L382.07 681.1 L383.37 681.33 L384.68 681.55 L385.98 681.76 L387.29 681.96 L388.59 682.16 L389.89 682.36 L391.2 682.54 L392.5 682.73 L393.8 682.91 L395.11 683.08 L396.41 683.25 L397.72 683.41 L399.02 683.57 L400.32 683.72 L401.63 683.87 L402.93 684.01 L404.24 684.15 L405.54 684.29 L406.84 684.42 L408.15 684.55 L409.45 684.67 L410.76 684.79 L412.06 684.91 L413.36 685.02 L414.67 685.13 L415.97 685.24 L417.28 685.34 L418.58 685.44 L419.88 685.54 L421.19 685.63 L422.49 685.73 L423.8 685.81 L425.1 685.9 L426.4 685.98 L427.71 686.06 L429.01 686.14 L430.32 686.22 L431.62 686.29 L432.92 686.36 L434.23 686.43 L435.53 686.5 L436.83 686.57 L438.14 686.63 L439.44 686.69 L440.75 686.75 L442.05 686.81 L443.35 686.86 L444.66 686.92 L445.96 686.97 L447.27 687.02 L448.57 687.07 L449.87 687.12 L451.18 687.16 L452.48 687.21 L453.79 687.25 L455.09 687.3 L456.39 687.34 L457.7 687.38 L459 687.41 L460.31 687.45 L461.61 687.49 L462.91 687.52 L464.22 687.56 L465.52 687.59 L466.83 687.62 L468.13 687.65 L469.43 687.68 L470.74 687.71 L472.04 687.74 L473.34 687.76 L474.65 687.79 L475.95 687.82 L477.26 687.84 L478.56 687.87 L479.86 687.89 L481.17 687.91 L482.47 687.93 L483.78 687.95 L485.08 687.97 L486.38 687.99 L487.69 688.01 L488.99 688.03 L490.3 688.05 L491.6 688.07" stroke="#969628" stroke-width="2.5" fill="none" stroke-linejoin="round"/>
<path d="M93.9 659.98 L95.2 657.83 L96.51 655.59 L97.81 653.26 L99.12 650.86 L100.42 648.37 L101.72 645.81 L103.03 643.17 L104.33 640.47 L105.64 637.71 L106.94 634.89 L108.24 632.02 L109.55 629.11 L110.85 626.16 L112.16 623.19 L113.46 620.19 L114.76 617.17 L116.07 614.14 L117.37 611.11 L118.67 608.09 L119.98 605.08 L121.28 602.09 L122.59 599.13 L123.89 596.21 L125.19 593.32 L126.5 590.48 L127.8 587.7 L129.11 584.98 L130.41 582.33 L131.71 579.74 L133.02 577.24 L134.32 574.82 L135.63 572.48 L136.93 570.24 L138.23 568.09 L139.54 566.04 L140.84 564.08 L142.15 562.23 L143.45 560.49 L144.75 558.85 L146.06 557.32 L147.36 555.89 L148.67 554.57 L149.97 553.36 L151.27 552.26 L152.58 551.25 L153.88 550.36 L155.18 549.56 L156.49 548.86 L157.79 548.26 L159.1 547.75 L160.4 547.32 L161.7 546.98 L163.01 546.73 L164.31 546.54 L165.62 546.42 L166.92 546.36 L168.22 546.34 L169.53 546.37 L170.83 546.47 L172.14 546.63 L173.44 546.85 L174.74 547.13 L176.05 547.47 L177.35 547.87 L178.66 548.32 L179.96 548.83 L181.26 549.4 L182.57 550.01 L183.87 550.68 L185.18 551.4 L186.48 552.17 L187.78 552.99 L189.09 553.85 L190.39 554.75 L191.7 555.7 L193 556.69 L194.3 557.71 L195.61 558.78 L196.91 559.88 L198.21 561.01 L199.52 562.18 L200.82 563.38 L202.13 564.61 L203.43 565.86 L204.73 567.14 L206.04 568.45 L207.34 569.78 L208.65 571.13 L209.95 572.5 L211.25 573.89 L212.56 575.3 L213.86 576.72 L215.17 578.16 L216.47 579.61 L217.77 581.07 L219.08 582.54 L220.38 584.02 L221.69 585.51 L222.99 587 L224.29 588.5 L225.6 590 L226.9 591.5 L228.21 593.01 L229.51 594.51 L230.81 596.02 L232.12 597.52 L233.42 599.02 L234.72 600.52 L236.03 602.01 L237.33 603.5 L238.64 604.98 L239.94 606.45 L241.24 607.92 L242.55 609.37 L243.85 610.82 L245.16 612.26 L246.46 613.68 L247.76 615.1 L249.07 616.5 L250.37 617.89 L251.68 619.27 L252.98 620.63 L254.28 621.99 L255.59 623.32 L256.89 624.64 L258.2 625.95 L259.5 627.24 L260.8 628.52 L262.11 629.78 L263.41 631.02 L264.72 632.25 L266.02 633.46 L267.32 634.66 L268.63 635.83 L269.93 636.99 L271.24 638.14 L272.54 639.26 L273.84 640.37 L275.15 641.46 L276.45 642.53 L277.75 643.59 L279.06 644.63 L280.36 645.65 L281.67 646.65 L282.97 647.64 L284.27 648.61 L285.58 649.56 L286.88 650.49 L288.19 651.41 L289.49 652.31 L290.79 653.19 L292.1 654.05 L293.4 654.9 L294.71 655.73 L296.01 656.55 L297.31 657.35 L298.62 658.13 L299.92 658.9 L301.23 659.65 L302.53 660.39 L303.83 661.11 L305.14 661.81 L306.44 662.5 L307.75 663.17 L309.05 663.83 L310.35 664.48 L311.66 665.11 L312.96 665.73 L314.26 666.33 L315.57 666.92 L316.87 667.5 L318.18 668.06 L319.48 668.61 L320.78 669.14 L322.09 669.67 L323.39 670.18 L324.7 670.68 L326 671.17 L327.3 671.64 L328.61 672.11 L329.91 672.56 L331.22 673 L332.52 673.43 L333.82 673.85 L335.13 674.26 L336.43 674.66 L337.74 675.05 L339.04 675.43 L340.34 675.8 L341.65 676.16 L342.95 676.51 L344.26 676.85 L345.56 677.19 L346.86 677.51 L348.17 677.83 L349.47 678.14 L350.78 678.44 L352.08 678.73 L353.38 679.01 L354.69 679.29 L355.99 679.56 L357.29 679.82 L358.6 680.07 L359.9 680.32 L361.21 680.56 L362.51 680.8 L363.81 681.02 L365.12 681.25 L366.42 681.46 L367.73 681.67 L369.03 681.88 L370.33 682.07 L371.64 682.27 L372.94 682.45 L374.25 682.64 L375.55 682.81 L376.85 682.99 L378.16 683.15 L379.46 683.32 L380.77 683.47 L382.07 683.63 L383.37 683.78 L384.68 683.92 L385.98 684.06 L387.29 684.2 L388.59 684.33 L389.89 684.46 L391.2 684.58 L392.5 684.71 L393.8 684.82 L395.11 684.94 L396.41 685.05 L397.72 685.16 L399.02 685.26 L400.32 685.36 L401.63 685.46 L402.93 685.56 L404.24 685.65 L405.54 685.74 L406.84 685.83 L408.15 685.91 L409.45 685.99 L410.76 686.07 L412.06 686.15 L413.36 686.23 L414.67 686.3 L415.97 686.37 L417.28 686.44 L418.58 686.51 L419.88 686.57 L421.19 686.63 L422.49 686.69 L423.8 686.75 L425.1 686.81 L426.4 686.87 L427.71 686.92 L429.01 686.97 L430.32 687.02 L431.62 687.07 L432.92 687.12 L434.23 687.17 L435.53 687.21 L436.83 687.25 L438.14 687.3 L439.44 687.34 L440.75 687.38 L442.05 687.41 L443.35 687.45 L444.66 687.49 L445.96 687.52 L447.27 687.55 L448.57 687.59 L449.87 687.62 L451.18 687.65 L452.48 687.68 L453.79 687.71 L455.09 687.74 L456.39 687.76 L457.7 687.79 L459 687.82 L460.31 687.84 L461.61 687.86 L462.91 687.89 L464.22 687.91 L465.52 687.93 L466.83 687.95 L468.13 687.97 L469.43 687.99 L470.74 688.01 L472.04 688.03 L473.34 688.05 L474.65 688.07 L475.95 688.08 L477.26 688.1 L478.56 688.12 L479.86 688.13 L481.17 688.15 L482.47 688.16 L483.78 688.17 L485.08 688.19 L486.38 688.2 L487.69 688.21 L488.99 688.23 L490.3 688.24 L491.6 688.25" stroke="#f57a28" stroke-width="2.5" fill="none" stroke-linejoin="round"/>
<path d="M93.9 655.58 L95.2 653.09 L96.51 650.51 L97.81 647.83 L99.12 645.05 L100.42 642.18 L101.72 639.22 L103.03 636.18 L104.33 633.06 L105.64 629.88 L106.94 626.63 L108.24 623.32 L109.55 619.96 L110.85 616.56 L112.16 613.12 L113.46 609.66 L114.76 606.18 L116.07 602.68 L117.37 599.19 L118.67 595.7 L119.98 592.23 L121.28 588.78 L122.59 585.37 L123.89 581.99 L125.19 578.66 L126.5 575.39 L127.8 572.18 L129.11 569.04 L130.41 565.98 L131.71 563 L133.02 560.11 L134.32 557.31 L135.63 554.62 L136.93 552.03 L138.23 549.55 L139.54 547.18 L140.84 544.93 L142.15 542.79 L143.45 540.78 L144.75 538.89 L146.06 537.12 L147.36 535.47 L148.67 533.95 L149.97 532.55 L151.27 531.28 L152.58 530.12 L153.88 529.09 L155.18 528.17 L156.49 527.36 L157.79 526.66 L159.1 526.08 L160.4 525.59 L161.7 525.2 L163.01 524.9 L164.31 524.68 L165.62 524.54 L166.92 524.47 L168.22 524.45 L169.53 524.49 L170.83 524.6 L172.14 524.78 L173.44 525.04 L174.74 525.36 L176.05 525.75 L177.35 526.21 L178.66 526.74 L179.96 527.33 L181.26 527.98 L182.57 528.69 L183.87 529.46 L185.18 530.29 L186.48 531.18 L187.78 532.12 L189.09 533.11 L190.39 534.16 L191.7 535.25 L193 536.39 L194.3 537.57 L195.61 538.8 L196.91 540.07 L198.21 541.38 L199.52 542.73 L200.82 544.11 L202.13 545.53 L203.43 546.98 L204.73 548.46 L206.04 549.97 L207.34 551.5 L208.65 553.06 L209.95 554.64 L211.25 556.25 L212.56 557.87 L213.86 559.51 L215.17 561.17 L216.47 562.84 L217.77 564.53 L219.08 566.22 L220.38 567.93 L221.69 569.65 L222.99 571.37 L224.29 573.1 L225.6 574.83 L226.9 576.56 L228.21 578.3 L229.51 580.04 L230.81 581.77 L232.12 583.51 L233.42 585.24 L234.72 586.97 L236.03 588.69 L237.33 590.4 L238.64 592.11 L239.94 593.81 L241.24 595.5 L242.55 597.18 L243.85 598.85 L245.16 600.51 L246.46 602.16 L247.76 603.79 L249.07 605.41 L250.37 607.01 L251.68 608.6 L252.98 610.18 L254.28 611.74 L255.59 613.28 L256.89 614.8 L258.2 616.31 L259.5 617.8 L260.8 619.27 L262.11 620.73 L263.41 622.16 L264.72 623.58 L266.02 624.98 L267.32 626.35 L268.63 627.71 L269.93 629.05 L271.24 630.37 L272.54 631.67 L273.84 632.95 L275.15 634.21 L276.45 635.44 L277.75 636.66 L279.06 637.86 L280.36 639.04 L281.67 640.2 L282.97 641.33 L284.27 642.45 L285.58 643.55 L286.88 644.63 L288.19 645.68 L289.49 646.72 L290.79 647.74 L292.1 648.74 L293.4 649.72 L294.71 650.68 L296.01 651.62 L297.31 652.54 L298.62 653.44 L299.92 654.33 L301.23 655.19 L302.53 656.04 L303.83 656.87 L305.14 657.69 L306.44 658.48 L307.75 659.26 L309.05 660.02 L310.35 660.77 L311.66 661.5 L312.96 662.21 L314.26 662.9 L315.57 663.58 L316.87 664.25 L318.18 664.9 L319.48 665.53 L320.78 666.15 L322.09 666.75 L323.39 667.34 L324.7 667.92 L326 668.48 L327.3 669.03 L328.61 669.57 L329.91 670.09 L331.22 670.6 L332.52 671.1 L333.82 671.58 L335.13 672.06 L336.43 672.52 L337.74 672.97 L339.04 673.4 L340.34 673.83 L341.65 674.25 L342.95 674.65 L344.26 675.05 L345.56 675.43 L346.86 675.81 L348.17 676.17 L349.47 676.52 L350.78 676.87 L352.08 677.21 L353.38 677.53 L354.69 677.85 L355.99 678.16 L357.29 678.47 L358.6 678.76 L359.9 679.05 L361.21 679.32 L362.51 679.59 L363.81 679.86 L365.12 680.11 L366.42 680.36 L367.73 680.61 L369.03 680.84 L370.33 681.07 L371.64 681.29 L372.94 681.51 L374.25 681.72 L375.55 681.92 L376.85 682.12 L378.16 682.31 L379.46 682.5 L380.77 682.68 L382.07 682.86 L383.37 683.03 L384.68 683.2 L385.98 683.36 L387.29 683.52 L388.59 683.67 L389.89 683.82 L391.2 683.96 L392.5 684.1 L393.8 684.24 L395.11 684.37 L396.41 684.5 L397.72 684.63 L399.02 684.75 L400.32 684.86 L401.63 684.98 L402.93 685.09 L404.24 685.19 L405.54 685.3 L406.84 685.4 L408.15 685.5 L409.45 685.59 L410.76 685.68 L412.06 685.77 L413.36 685.86 L414.67 685.95 L415.97 686.03 L417.28 686.11 L418.58 686.18 L419.88 686.26 L421.19 686.33 L422.49 686.4 L423.8 686.47 L425.1 686.53 L426.4 686.6 L427.71 686.66 L429.01 686.72 L430.32 686.78 L431.62 686.84 L432.92 686.89 L434.23 686.94 L435.53 686.99 L436.83 687.04 L438.14 687.09 L439.44 687.14 L440.75 687.19 L442.05 687.23 L443.35 687.27 L444.66 687.31 L445.96 687.35 L447.27 687.39 L448.57 687.43 L449.87 687.47 L451.18 687.5 L452.48 687.54 L453.79 687.57 L455.09 687.6 L456.39 687.63 L457.7 687.66 L459 687.69 L460.31 687.72 L461.61 687.75 L462.91 687.78 L464.22 687.8 L465.52 687.83 L466.83 687.85 L468.13 687.88 L469.43 687.9 L470.74 687.92 L472.04 687.94 L473.34 687.96 L474.65 687.98 L475.95 688 L477.26 688.02 L478.56 688.04 L479.86 688.06 L481.17 688.07 L482.47 688.09 L483.78 688.11 L485.08 688.12 L486.38 688.14 L487.69 688.15 L488.99 688.17 L490.3 688.18 L491.6 688.19" stroke="#6fa0d8" stroke-width="2.5" fill="none" stroke-linejoin="round"/>
<path d="M93.9 672.23 L95.2 671 L96.51 669.71 L97.81 668.38 L99.12 667 L100.42 665.58 L101.72 664.11 L103.03 662.61 L104.33 661.06 L105.64 659.48 L106.94 657.87 L108.24 656.23 L109.55 654.56 L110.85 652.88 L112.16 651.17 L113.46 649.45 L114.76 647.73 L116.07 646 L117.37 644.26 L118.67 642.53 L119.98 640.81 L121.28 639.1 L122.59 637.41 L123.89 635.73 L125.19 634.08 L126.5 632.46 L127.8 630.87 L129.11 629.31 L130.41 627.79 L131.71 626.31 L133.02 624.88 L134.32 623.49 L135.63 622.16 L136.93 620.87 L138.23 619.64 L139.54 618.47 L140.84 617.35 L142.15 616.29 L143.45 615.29 L144.75 614.36 L146.06 613.48 L147.36 612.66 L148.67 611.91 L149.97 611.22 L151.27 610.58 L152.58 610.01 L153.88 609.5 L155.18 609.04 L156.49 608.64 L157.79 608.29 L159.1 608 L160.4 607.76 L161.7 607.57 L163.01 607.42 L164.31 607.31 L165.62 607.24 L166.92 607.21 L168.22 607.2 L169.53 607.22 L170.83 607.27 L172.14 607.36 L173.44 607.49 L174.74 607.65 L176.05 607.84 L177.35 608.07 L178.66 608.33 L179.96 608.62 L181.26 608.95 L182.57 609.3 L183.87 609.68 L185.18 610.09 L186.48 610.53 L187.78 611 L189.09 611.49 L190.39 612.01 L191.7 612.55 L193 613.12 L194.3 613.71 L195.61 614.31 L196.91 614.94 L198.21 615.59 L199.52 616.26 L200.82 616.95 L202.13 617.65 L203.43 618.37 L204.73 619.1 L206.04 619.85 L207.34 620.61 L208.65 621.39 L209.95 622.17 L211.25 622.97 L212.56 623.77 L213.86 624.58 L215.17 625.41 L216.47 626.24 L217.77 627.07 L219.08 627.91 L220.38 628.76 L221.69 629.61 L222.99 630.47 L224.29 631.32 L225.6 632.18 L226.9 633.04 L228.21 633.9 L229.51 634.76 L230.81 635.63 L232.12 636.49 L233.42 637.34 L234.72 638.2 L236.03 639.05 L237.33 639.91 L238.64 640.75 L239.94 641.6 L241.24 642.43 L242.55 643.27 L243.85 644.1 L245.16 644.92 L246.46 645.73 L247.76 646.54 L249.07 647.35 L250.37 648.14 L251.68 648.93 L252.98 649.71 L254.28 650.48 L255.59 651.25 L256.89 652.01 L258.2 652.75 L259.5 653.49 L260.8 654.22 L262.11 654.94 L263.41 655.66 L264.72 656.36 L266.02 657.05 L267.32 657.73 L268.63 658.41 L269.93 659.07 L271.24 659.73 L272.54 660.37 L273.84 661 L275.15 661.63 L276.45 662.24 L277.75 662.85 L279.06 663.44 L280.36 664.03 L281.67 664.6 L282.97 665.16 L284.27 665.72 L285.58 666.26 L286.88 666.8 L288.19 667.32 L289.49 667.83 L290.79 668.34 L292.1 668.83 L293.4 669.32 L294.71 669.8 L296.01 670.26 L297.31 670.72 L298.62 671.17 L299.92 671.61 L301.23 672.04 L302.53 672.46 L303.83 672.87 L305.14 673.27 L306.44 673.67 L307.75 674.05 L309.05 674.43 L310.35 674.8 L311.66 675.16 L312.96 675.51 L314.26 675.86 L315.57 676.2 L316.87 676.53 L318.18 676.85 L319.48 677.16 L320.78 677.47 L322.09 677.77 L323.39 678.06 L324.7 678.35 L326 678.63 L327.3 678.9 L328.61 679.17 L329.91 679.42 L331.22 679.68 L332.52 679.92 L333.82 680.16 L335.13 680.4 L336.43 680.63 L337.74 680.85 L339.04 681.07 L340.34 681.28 L341.65 681.49 L342.95 681.69 L344.26 681.88 L345.56 682.07 L346.86 682.26 L348.17 682.44 L349.47 682.62 L350.78 682.79 L352.08 682.95 L353.38 683.12 L354.69 683.27 L355.99 683.43 L357.29 683.58 L358.6 683.72 L359.9 683.87 L361.21 684 L362.51 684.14 L363.81 684.27 L365.12 684.4 L366.42 684.52 L367.73 684.64 L369.03 684.76 L370.33 684.87 L371.64 684.98 L372.94 685.09 L374.25 685.19 L375.55 685.29 L376.85 685.39 L378.16 685.49 L379.46 685.58 L380.77 685.67 L382.07 685.76 L383.37 685.84 L384.68 685.93 L385.98 686.01 L387.29 686.08 L388.59 686.16 L389.89 686.23 L391.2 686.31 L392.5 686.37 L393.8 686.44 L395.11 686.51 L396.41 686.57 L397.72 686.63 L399.02 686.69 L400.32 686.75 L401.63 686.81 L402.93 686.86 L404.24 686.92 L405.54 686.97 L406.84 687.02 L408.15 687.07 L409.45 687.11 L410.76 687.16 L412.06 687.2 L413.36 687.25 L414.67 687.29 L415.97 687.33 L417.28 687.37 L418.58 687.41 L419.88 687.44 L421.19 687.48 L422.49 687.51 L423.8 687.55 L425.1 687.58 L426.4 687.61 L427.71 687.64 L429.01 687.67 L430.32 687.7 L431.62 687.73 L432.92 687.76 L434.23 687.78 L435.53 687.81 L436.83 687.83 L438.14 687.86 L439.44 687.88 L440.75 687.9 L442.05 687.92 L443.35 687.95 L444.66 687.97 L445.96 687.99 L447.27 688.01 L448.57 688.02 L449.87 688.04 L451.18 688.06 L452.48 688.08 L453.79 688.09 L455.09 688.11 L456.39 688.13 L457.7 688.14 L459 688.15 L460.31 688.17 L461.61 688.18 L462.91 688.2 L464.22 688.21 L465.52 688.22 L466.83 688.23 L468.13 688.24 L469.43 688.26 L470.74 688.27 L472.04 688.28 L473.34 688.29 L474.65 688.3 L475.95 688.31 L477.26 688.32 L478.56 688.33 L479.86 688.33 L481.17 688.34 L482.47 688.35 L483.78 688.36 L485.08 688.37 L486.38 688.37 L487.69 688.38 L488.99 688.39 L490.3 688.4 L491.6 688.4" stroke="#70c02a" stroke-width="2.5" fill="none" stroke-linejoin="round"/>
<path d="M93.9 676.09 L95.2 675.15 L96.51 674.17 L97.81 673.16 L99.12 672.1 L100.42 671.02 L101.72 669.9 L103.03 668.75 L104.33 667.56 L105.64 666.36 L106.94 665.13 L108.24 663.87 L109.55 662.6 L110.85 661.31 L112.16 660.01 L113.46 658.7 L114.76 657.38 L116.07 656.06 L117.37 654.73 L118.67 653.41 L119.98 652.09 L121.28 650.79 L122.59 649.49 L123.89 648.21 L125.19 646.95 L126.5 645.71 L127.8 644.5 L129.11 643.31 L130.41 642.15 L131.71 641.02 L133.02 639.92 L134.32 638.87 L135.63 637.84 L136.93 636.86 L138.23 635.92 L139.54 635.03 L140.84 634.17 L142.15 633.36 L143.45 632.6 L144.75 631.88 L146.06 631.21 L147.36 630.59 L148.67 630.01 L149.97 629.49 L151.27 629 L152.58 628.56 L153.88 628.17 L155.18 627.82 L156.49 627.52 L157.79 627.25 L159.1 627.03 L160.4 626.85 L161.7 626.7 L163.01 626.58 L164.31 626.5 L165.62 626.45 L166.92 626.42 L168.22 626.42 L169.53 626.43 L170.83 626.47 L172.14 626.54 L173.44 626.64 L174.74 626.76 L176.05 626.91 L177.35 627.08 L178.66 627.28 L179.96 627.5 L181.26 627.75 L182.57 628.02 L183.87 628.31 L185.18 628.63 L186.48 628.96 L187.78 629.32 L189.09 629.7 L190.39 630.09 L191.7 630.51 L193 630.94 L194.3 631.39 L195.61 631.85 L196.91 632.33 L198.21 632.83 L199.52 633.34 L200.82 633.86 L202.13 634.4 L203.43 634.95 L204.73 635.51 L206.04 636.08 L207.34 636.66 L208.65 637.25 L209.95 637.85 L211.25 638.46 L212.56 639.08 L213.86 639.7 L215.17 640.33 L216.47 640.96 L217.77 641.6 L219.08 642.24 L220.38 642.89 L221.69 643.54 L222.99 644.19 L224.29 644.85 L225.6 645.5 L226.9 646.16 L228.21 646.82 L229.51 647.48 L230.81 648.13 L232.12 648.79 L233.42 649.45 L234.72 650.1 L236.03 650.75 L237.33 651.4 L238.64 652.05 L239.94 652.69 L241.24 653.33 L242.55 653.97 L243.85 654.6 L245.16 655.23 L246.46 655.85 L247.76 656.47 L249.07 657.09 L250.37 657.69 L251.68 658.3 L252.98 658.89 L254.28 659.48 L255.59 660.07 L256.89 660.65 L258.2 661.22 L259.5 661.78 L260.8 662.34 L262.11 662.89 L263.41 663.43 L264.72 663.97 L266.02 664.5 L267.32 665.02 L268.63 665.54 L269.93 666.04 L271.24 666.54 L272.54 667.04 L273.84 667.52 L275.15 668 L276.45 668.47 L277.75 668.93 L279.06 669.38 L280.36 669.83 L281.67 670.27 L282.97 670.7 L284.27 671.12 L285.58 671.54 L286.88 671.94 L288.19 672.35 L289.49 672.74 L290.79 673.12 L292.1 673.5 L293.4 673.87 L294.71 674.24 L296.01 674.59 L297.31 674.94 L298.62 675.29 L299.92 675.62 L301.23 675.95 L302.53 676.27 L303.83 676.59 L305.14 676.89 L306.44 677.19 L307.75 677.49 L309.05 677.78 L310.35 678.06 L311.66 678.34 L312.96 678.61 L314.26 678.87 L315.57 679.13 L316.87 679.38 L318.18 679.62 L319.48 679.86 L320.78 680.1 L322.09 680.33 L323.39 680.55 L324.7 680.77 L326 680.98 L327.3 681.19 L328.61 681.39 L329.91 681.59 L331.22 681.79 L332.52 681.97 L333.82 682.16 L335.13 682.34 L336.43 682.51 L337.74 682.68 L339.04 682.85 L340.34 683.01 L341.65 683.17 L342.95 683.32 L344.26 683.47 L345.56 683.62 L346.86 683.76 L348.17 683.9 L349.47 684.03 L350.78 684.16 L352.08 684.29 L353.38 684.41 L354.69 684.53 L355.99 684.65 L357.29 684.77 L358.6 684.88 L359.9 684.99 L361.21 685.09 L362.51 685.19 L363.81 685.29 L365.12 685.39 L366.42 685.48 L367.73 685.58 L369.03 685.67 L370.33 685.75 L371.64 685.84 L372.94 685.92 L374.25 686 L375.55 686.08 L376.85 686.15 L378.16 686.22 L379.46 686.29 L380.77 686.36 L382.07 686.43 L383.37 686.5 L384.68 686.56 L385.98 686.62 L387.29 686.68 L388.59 686.74 L389.89 686.79 L391.2 686.85 L392.5 686.9 L393.8 686.95 L395.11 687 L396.41 687.05 L397.72 687.1 L399.02 687.15 L400.32 687.19 L401.63 687.23 L402.93 687.27 L404.24 687.32 L405.54 687.35 L406.84 687.39 L408.15 687.43 L409.45 687.47 L410.76 687.5 L412.06 687.53 L413.36 687.57 L414.67 687.6 L415.97 687.63 L417.28 687.66 L418.58 687.69 L419.88 687.72 L421.19 687.75 L422.49 687.77 L423.8 687.8 L425.1 687.82 L426.4 687.85 L427.71 687.87 L429.01 687.89 L430.32 687.92 L431.62 687.94 L432.92 687.96 L434.23 687.98 L435.53 688 L436.83 688.02 L438.14 688.03 L439.44 688.05 L440.75 688.07 L442.05 688.09 L443.35 688.1 L444.66 688.12 L445.96 688.13 L447.27 688.15 L448.57 688.16 L449.87 688.18 L451.18 688.19 L452.48 688.2 L453.79 688.22 L455.09 688.23 L456.39 688.24 L457.7 688.25 L459 688.26 L460.31 688.27 L461.61 688.28 L462.91 688.29 L464.22 688.3 L465.52 688.31 L466.83 688.32 L468.13 688.33 L469.43 688.34 L470.74 688.35 L472.04 688.36 L473.34 688.36 L474.65 688.37 L475.95 688.38 L477.26 688.39 L478.56 688.39 L479.86 688.4 L481.17 688.41 L482.47 688.41 L483.78 688.42 L485.08 688.42 L486.38 688.43 L487.69 688.44 L488.99 688.44 L490.3 688.45 L491.6 688.45" stroke="#555555" stroke-width="2.5" fill="none" stroke-linejoin="round"/>
<path d="M93.9 673.35 L95.2 672.21 L96.51 671.01 L97.81 669.78 L99.12 668.49 L100.42 667.17 L101.72 665.8 L103.03 664.4 L104.33 662.96 L105.64 661.49 L106.94 659.99 L108.24 658.46 L109.55 656.91 L110.85 655.34 L112.16 653.75 L113.46 652.15 L114.76 650.54 L116.07 648.93 L117.37 647.32 L118.67 645.71 L119.98 644.1 L121.28 642.51 L122.59 640.93 L123.89 639.37 L125.19 637.84 L126.5 636.32 L127.8 634.84 L129.11 633.39 L130.41 631.98 L131.71 630.6 L133.02 629.27 L134.32 627.98 L135.63 626.73 L136.93 625.54 L138.23 624.39 L139.54 623.3 L140.84 622.26 L142.15 621.27 L143.45 620.34 L144.75 619.47 L146.06 618.65 L147.36 617.89 L148.67 617.19 L149.97 616.54 L151.27 615.95 L152.58 615.42 L153.88 614.94 L155.18 614.52 L156.49 614.15 L157.79 613.82 L159.1 613.55 L160.4 613.33 L161.7 613.15 L163.01 613.01 L164.31 612.91 L165.62 612.85 L166.92 612.81 L168.22 612.8 L169.53 612.82 L170.83 612.87 L172.14 612.96 L173.44 613.07 L174.74 613.22 L176.05 613.4 L177.35 613.62 L178.66 613.86 L179.96 614.13 L181.26 614.43 L182.57 614.76 L183.87 615.12 L185.18 615.5 L186.48 615.91 L187.78 616.34 L189.09 616.8 L190.39 617.28 L191.7 617.79 L193 618.32 L194.3 618.86 L195.61 619.43 L196.91 620.02 L198.21 620.62 L199.52 621.24 L200.82 621.88 L202.13 622.54 L203.43 623.21 L204.73 623.89 L206.04 624.58 L207.34 625.29 L208.65 626.01 L209.95 626.74 L211.25 627.48 L212.56 628.23 L213.86 628.99 L215.17 629.76 L216.47 630.53 L217.77 631.31 L219.08 632.09 L220.38 632.88 L221.69 633.67 L222.99 634.47 L224.29 635.27 L225.6 636.07 L226.9 636.87 L228.21 637.67 L229.51 638.47 L230.81 639.27 L232.12 640.07 L233.42 640.87 L234.72 641.67 L236.03 642.47 L237.33 643.26 L238.64 644.05 L239.94 644.83 L241.24 645.61 L242.55 646.39 L243.85 647.16 L245.16 647.93 L246.46 648.69 L247.76 649.44 L249.07 650.19 L250.37 650.93 L251.68 651.66 L252.98 652.39 L254.28 653.11 L255.59 653.82 L256.89 654.53 L258.2 655.22 L259.5 655.91 L260.8 656.59 L262.11 657.26 L263.41 657.92 L264.72 658.58 L266.02 659.22 L267.32 659.86 L268.63 660.49 L269.93 661.11 L271.24 661.71 L272.54 662.31 L273.84 662.91 L275.15 663.49 L276.45 664.06 L277.75 664.62 L279.06 665.17 L280.36 665.72 L281.67 666.25 L282.97 666.78 L284.27 667.29 L285.58 667.8 L286.88 668.3 L288.19 668.79 L289.49 669.27 L290.79 669.74 L292.1 670.2 L293.4 670.65 L294.71 671.09 L296.01 671.53 L297.31 671.95 L298.62 672.37 L299.92 672.78 L301.23 673.18 L302.53 673.57 L303.83 673.95 L305.14 674.33 L306.44 674.7 L307.75 675.06 L309.05 675.41 L310.35 675.75 L311.66 676.09 L312.96 676.42 L314.26 676.74 L315.57 677.05 L316.87 677.36 L318.18 677.66 L319.48 677.95 L320.78 678.24 L322.09 678.52 L323.39 678.79 L324.7 679.06 L326 679.31 L327.3 679.57 L328.61 679.82 L329.91 680.06 L331.22 680.29 L332.52 680.52 L333.82 680.75 L335.13 680.96 L336.43 681.18 L337.74 681.38 L339.04 681.59 L340.34 681.78 L341.65 681.98 L342.95 682.16 L344.26 682.35 L345.56 682.52 L346.86 682.7 L348.17 682.86 L349.47 683.03 L350.78 683.19 L352.08 683.34 L353.38 683.49 L354.69 683.64 L355.99 683.79 L357.29 683.92 L358.6 684.06 L359.9 684.19 L361.21 684.32 L362.51 684.45 L363.81 684.57 L365.12 684.69 L366.42 684.8 L367.73 684.91 L369.03 685.02 L370.33 685.13 L371.64 685.23 L372.94 685.33 L374.25 685.43 L375.55 685.52 L376.85 685.61 L378.16 685.7 L379.46 685.79 L380.77 685.87 L382.07 685.95 L383.37 686.03 L384.68 686.11 L385.98 686.19 L387.29 686.26 L388.59 686.33 L389.89 686.4 L391.2 686.46 L392.5 686.53 L393.8 686.59 L395.11 686.65 L396.41 686.71 L397.72 686.77 L399.02 686.82 L400.32 686.88 L401.63 686.93 L402.93 686.98 L404.24 687.03 L405.54 687.08 L406.84 687.13 L408.15 687.17 L409.45 687.22 L410.76 687.26 L412.06 687.3 L413.36 687.34 L414.67 687.38 L415.97 687.42 L417.28 687.45 L418.58 687.49 L419.88 687.52 L421.19 687.56 L422.49 687.59 L423.8 687.62 L425.1 687.65 L426.4 687.68 L427.71 687.71 L429.01 687.74 L430.32 687.76 L431.62 687.79 L432.92 687.81 L434.23 687.84 L435.53 687.86 L436.83 687.89 L438.14 687.91 L439.44 687.93 L440.75 687.95 L442.05 687.97 L443.35 687.99 L444.66 688.01 L445.96 688.03 L447.27 688.05 L448.57 688.06 L449.87 688.08 L451.18 688.1 L452.48 688.11 L453.79 688.13 L455.09 688.14 L456.39 688.16 L457.7 688.17 L459 688.19 L460.31 688.2 L461.61 688.21 L462.91 688.22 L464.22 688.24 L465.52 688.25 L466.83 688.26 L468.13 688.27 L469.43 688.28 L470.74 688.29 L472.04 688.3 L473.34 688.31 L474.65 688.32 L475.95 688.33 L477.26 688.34 L478.56 688.35 L479.86 688.35 L481.17 688.36 L482.47 688.37 L483.78 688.38 L485.08 688.38 L486.38 688.39 L487.69 688.4 L488.99 688.4 L490.3 688.41 L491.6 688.42" stroke="#f04850" stroke-width="2.5" fill="none" stroke-linejoin="round"/>
</g>
<path d="M389.4 409.7H425.8" stroke="#555555" stroke-width="2.6"/>
<text x="450.4" y="415.3" font-size="15" font-weight="normal" text-anchor="middle" fill="#333">30 min</text>
<path d="M389.4 428.72H425.8" stroke="#f04850" stroke-width="2.6"/>
<text x="450.4" y="434.32" font-size="15" font-weight="normal" text-anchor="middle" fill="#333">40 min</text>
<path d="M389.4 447.74H425.8" stroke="#2f6fe0" stroke-width="2.6"/>
<text x="450.4" y="453.34" font-size="15" font-weight="normal" text-anchor="middle" fill="#333">50 min</text>
<path d="M389.4 466.76H425.8" stroke="#3aaa6a" stroke-width="2.6"/>
<text x="450.4" y="472.36" font-size="15" font-weight="normal" text-anchor="middle" fill="#333">60 min</text>
<path d="M389.4 485.78H425.8" stroke="#b27ae6" stroke-width="2.6" stroke-dasharray="11 11.2"/>
<text x="450.4" y="491.38" font-size="15" font-weight="normal" text-anchor="middle" fill="#333">70 min</text>
<path d="M389.4 504.8H425.8" stroke="#d8a535" stroke-width="2.6"/>
<text x="450.4" y="510.4" font-size="15" font-weight="normal" text-anchor="middle" fill="#333">80 min</text>
<path d="M389.4 523.82H425.8" stroke="#30d0d8" stroke-width="2.6"/>
<text x="450.4" y="529.42" font-size="15" font-weight="normal" text-anchor="middle" fill="#333">90 min</text>
<path d="M389.4 542.84H425.8" stroke="#7f5a5f" stroke-width="2.6"/>
<text x="450.4" y="548.44" font-size="15" font-weight="normal" text-anchor="middle" fill="#333">100 min</text>
<path d="M389.4 561.86H425.8" stroke="#969628" stroke-width="2.6"/>
<text x="450.4" y="567.46" font-size="15" font-weight="normal" text-anchor="middle" fill="#333">110 min</text>
<path d="M389.4 580.88H425.8" stroke="#f57a28" stroke-width="2.6"/>
<text x="450.4" y="586.48" font-size="15" font-weight="normal" text-anchor="middle" fill="#333">120 min</text>
<path d="M389.4 599.9H425.8" stroke="#6fa0d8" stroke-width="2.6"/>
<text x="450.4" y="605.5" font-size="15" font-weight="normal" text-anchor="middle" fill="#333">130 min</text>
<path d="M389.4 618.92H425.8" stroke="#70c02a" stroke-width="2.6"/>
<text x="450.4" y="624.52" font-size="15" font-weight="normal" text-anchor="middle" fill="#333">140 min</text>
<path d="M389.4 637.94H425.8" stroke="#555555" stroke-width="2.6"/>
<text x="450.4" y="643.54" font-size="15" font-weight="normal" text-anchor="middle" fill="#333">150 min</text>
<path d="M389.4 656.96H425.8" stroke="#f04850" stroke-width="2.6"/>
<text x="450.4" y="662.56" font-size="15" font-weight="normal" text-anchor="middle" fill="#333">160 min</text>
<rect x="576.3" y="394.7" width="400" height="321.6" fill="none" stroke="#111" stroke-width="2.2"/>
<path d="M569.8 716.3H576.3M569.8 662.7H576.3M569.8 609.1H576.3M569.8 555.5H576.3M569.8 501.9H576.3M569.8 448.3H576.3M569.8 394.7H576.3M572.8 689.5H576.3M572.8 635.9H576.3M572.8 582.3H576.3M572.8 528.7H576.3M572.8 475.1H576.3M572.8 421.5H576.3" stroke="#111" stroke-width="2.0" fill="none"/>
<text x="565.5" y="722.7" text-anchor="end" font-size="19" font-weight="bold">-1.0</text>
<text x="565.5" y="669.1" text-anchor="end" font-size="19" font-weight="bold">-0.5</text>
<text x="565.5" y="615.5" text-anchor="end" font-size="19" font-weight="bold">0.0</text>
<text x="565.5" y="561.9" text-anchor="end" font-size="19" font-weight="bold">0.5</text>
<text x="565.5" y="508.3" text-anchor="end" font-size="19" font-weight="bold">1.0</text>
<text x="565.5" y="454.7" text-anchor="end" font-size="19" font-weight="bold">1.5</text>
<text x="565.5" y="401.1" text-anchor="end" font-size="19" font-weight="bold">2.0</text>
<path d="M576.3 716.3V722.8M629.63 716.3V722.8M682.97 716.3V722.8M736.3 716.3V722.8M789.63 716.3V722.8M842.97 716.3V722.8M896.3 716.3V722.8M949.63 716.3V722.8M602.97 716.3V719.8M656.3 716.3V719.8M709.63 716.3V719.8M762.97 716.3V719.8M816.3 716.3V719.8M869.63 716.3V719.8M922.97 716.3V719.8M976.3 716.3V719.8" stroke="#111" stroke-width="2.0" fill="none"/>
<text x="576.3" y="742" text-anchor="middle" font-size="19" font-weight="bold">20</text>
<text x="629.63" y="742" text-anchor="middle" font-size="19" font-weight="bold">40</text>
<text x="682.97" y="742" text-anchor="middle" font-size="19" font-weight="bold">60</text>
<text x="736.3" y="742" text-anchor="middle" font-size="19" font-weight="bold">80</text>
<text x="789.63" y="742" text-anchor="middle" font-size="19" font-weight="bold">100</text>
<text x="842.97" y="742" text-anchor="middle" font-size="19" font-weight="bold">120</text>
<text x="896.3" y="742" text-anchor="middle" font-size="19" font-weight="bold">140</text>
<text x="949.63" y="742" text-anchor="middle" font-size="19" font-weight="bold">160</text>
<text x="493.2" y="414.6" font-size="40.3" font-weight="bold" text-anchor="start">(d)</text>
<path d="M609.56 536.5L623.04 537.09M636.23 537.38L649.7 537.38M661.5 533.32L677.76 520.65M688.72 513.35L703.88 504.82M713.85 506.65L732.08 528.56M741.39 537.83L757.87 551.41M767.87 551.19L784.73 536.01M795.98 529.78L809.95 525.79M820.82 528.8L838.45 547.58M849.26 550.42L863.34 546M873.78 549.16L892.15 571.91M902.69 578.72L916.58 582.35M929.43 582.69L943.17 579.87" stroke="#111" stroke-width="2.5" fill="none" stroke-linecap="butt"/>
<polygon points="602.97,529.8 604.73,533.78 609.05,534.23 605.82,537.13 606.73,541.38 602.97,539.2 599.2,541.38 600.11,537.13 596.88,534.23 601.2,533.78" fill="#ff1010"/>
<polygon points="629.63,530.98 631.4,534.96 635.72,535.41 632.49,538.31 633.4,542.56 629.63,540.38 625.87,542.56 626.78,538.31 623.55,535.41 627.87,534.96" fill="#ff1010"/>
<polygon points="656.3,530.98 658.06,534.96 662.39,535.41 659.15,538.31 660.06,542.56 656.3,540.38 652.54,542.56 653.45,538.31 650.21,535.41 654.54,534.96" fill="#ff1010"/>
<polygon points="682.97,510.19 684.73,514.16 689.05,514.61 685.82,517.51 686.73,521.76 682.97,519.59 679.2,521.76 680.11,517.51 676.88,514.61 681.2,514.16" fill="#ff1010"/>
<polygon points="709.63,495.18 711.4,499.15 715.72,499.6 712.49,502.51 713.4,506.76 709.63,504.58 705.87,506.76 706.78,502.51 703.55,499.6 707.87,499.15" fill="#ff1010"/>
<polygon points="736.3,527.23 738.06,531.2 742.39,531.65 739.15,534.56 740.06,538.81 736.3,536.63 732.54,538.81 733.45,534.56 730.21,531.65 734.54,531.2" fill="#ff1010"/>
<polygon points="762.97,549.21 764.73,553.18 769.05,553.63 765.82,556.53 766.73,560.78 762.97,558.61 759.2,560.78 760.11,556.53 756.88,553.63 761.2,553.18" fill="#ff1010"/>
<polygon points="789.63,525.19 791.4,529.17 795.72,529.62 792.49,532.52 793.4,536.77 789.63,534.59 785.87,536.77 786.78,532.52 783.55,529.62 787.87,529.17" fill="#ff1010"/>
<polygon points="816.3,517.58 818.06,521.56 822.39,522.01 819.15,524.91 820.06,529.16 816.3,526.98 812.54,529.16 813.45,524.91 810.21,522.01 814.54,521.56" fill="#ff1010"/>
<polygon points="842.97,545.99 844.73,549.96 849.05,550.41 845.82,553.32 846.73,557.57 842.97,555.39 839.2,557.57 840.11,553.32 836.88,550.41 841.2,549.96" fill="#ff1010"/>
<polygon points="869.63,537.63 871.4,541.6 875.72,542.05 872.49,544.96 873.4,549.21 869.63,547.03 865.87,549.21 866.78,544.96 863.55,542.05 867.87,541.6" fill="#ff1010"/>
<polygon points="896.3,570.65 898.06,574.62 902.39,575.07 899.15,577.97 900.06,582.22 896.3,580.05 892.54,582.22 893.45,577.97 890.21,575.07 894.54,574.62" fill="#ff1010"/>
<polygon points="922.97,577.62 924.73,581.59 929.05,582.04 925.82,584.94 926.73,589.19 922.97,587.02 919.2,589.19 920.11,584.94 916.88,582.04 921.2,581.59" fill="#ff1010"/>
<polygon points="949.63,572.15 951.4,576.12 955.72,576.57 952.49,579.48 953.4,583.73 949.63,581.55 945.87,583.73 946.78,579.48 943.55,576.57 947.87,576.12" fill="#ff1010"/>
<text transform="translate(537.8 563.3) rotate(-90)" font-size="24.5" font-weight="bold">I/I</text>
<text transform="translate(542.6 537.6) rotate(-90)" font-size="24" font-weight="bold">0</text>
<text x="760.4" y="759.2" font-size="23.7" font-weight="bold" text-anchor="middle">Time(min)</text>
<rect x="93.1" y="773" width="402.9" height="324.9" fill="none" stroke="#111" stroke-width="2.2"/>
<path d="M86.6 1074.69H93.1M86.6 1028.28H93.1M86.6 981.86H93.1M86.6 935.45H93.1M86.6 889.04H93.1M86.6 842.62H93.1M86.6 796.21H93.1M89.6 1097.9H93.1M89.6 1051.49H93.1M89.6 1005.07H93.1M89.6 958.66H93.1M89.6 912.24H93.1M89.6 865.83H93.1M89.6 819.41H93.1M89.6 773H93.1" stroke="#111" stroke-width="2.0" fill="none"/>
<text x="81.5" y="1080.89" text-anchor="end" font-size="19.8" font-weight="bold">0</text>
<text x="81.5" y="1034.48" text-anchor="end" font-size="19.8" font-weight="bold">200</text>
<text x="81.5" y="988.06" text-anchor="end" font-size="19.8" font-weight="bold">400</text>
<text x="81.5" y="941.65" text-anchor="end" font-size="19.8" font-weight="bold">600</text>
<text x="81.5" y="895.24" text-anchor="end" font-size="19.8" font-weight="bold">800</text>
<text x="81.5" y="848.82" text-anchor="end" font-size="19.8" font-weight="bold">1000</text>
<text x="81.5" y="802.41" text-anchor="end" font-size="19.8" font-weight="bold">1200</text>
<path d="M141.45 1097.9V1091.4M222.03 1097.9V1091.4M302.61 1097.9V1091.4M383.19 1097.9V1091.4M463.77 1097.9V1091.4M101.16 1097.9V1094.4M181.74 1097.9V1094.4M262.32 1097.9V1094.4M342.9 1097.9V1094.4M423.48 1097.9V1094.4" stroke="#111" stroke-width="2.0" fill="none"/>
<text x="141.45" y="1121" text-anchor="middle" font-size="19.8" font-weight="bold">450</text>
<text x="222.03" y="1121" text-anchor="middle" font-size="19.8" font-weight="bold">500</text>
<text x="302.61" y="1121" text-anchor="middle" font-size="19.8" font-weight="bold">550</text>
<text x="383.19" y="1121" text-anchor="middle" font-size="19.8" font-weight="bold">600</text>
<text x="463.77" y="1121" text-anchor="middle" font-size="19.8" font-weight="bold">650</text>
<text x="0.4" y="776.2" font-size="46.4" font-weight="bold" text-anchor="start">(e)</text>
<text x="286.7" y="1137.9" font-size="23.7" font-weight="bold" text-anchor="middle">Wavelength(nm)</text>
<text transform="translate(50 922.3) rotate(-90)" font-size="20" font-weight="bold" text-anchor="middle">Intensity(a.u.)</text>
<g clip-path="url(#clipE)">
<path d="M93.1 1070.75 L94.71 1070.54 L96.32 1070.32 L97.93 1070.1 L99.55 1069.88 L101.16 1069.66 L102.77 1069.43 L104.38 1069.2 L105.99 1068.96 L107.6 1068.73 L109.22 1068.49 L110.83 1068.25 L112.44 1068.01 L114.05 1067.78 L115.66 1067.54 L117.27 1067.3 L118.89 1067.06 L120.5 1066.83 L122.11 1066.59 L123.72 1066.36 L125.33 1066.13 L126.94 1065.9 L128.56 1065.68 L130.17 1065.46 L131.78 1065.25 L133.39 1065.04 L135 1064.83 L136.61 1064.63 L138.22 1064.43 L139.84 1064.24 L141.45 1064.06 L143.06 1063.88 L144.67 1063.71 L146.28 1063.54 L147.89 1063.39 L149.51 1063.23 L151.12 1063.09 L152.73 1062.95 L154.34 1062.82 L155.95 1062.69 L157.56 1062.58 L159.18 1062.47 L160.79 1062.36 L162.4 1062.27 L164.01 1062.18 L165.62 1062.1 L167.23 1062.02 L168.85 1061.95 L170.46 1061.89 L172.07 1061.83 L173.68 1061.78 L175.29 1061.74 L176.9 1061.7 L178.51 1061.67 L180.13 1061.64 L181.74 1061.62 L183.35 1061.61 L184.96 1061.59 L186.57 1061.59 L188.18 1061.58 L189.8 1061.58 L191.41 1061.58 L193.02 1061.59 L194.63 1061.6 L196.24 1061.62 L197.85 1061.64 L199.47 1061.66 L201.08 1061.69 L202.69 1061.72 L204.3 1061.76 L205.91 1061.8 L207.52 1061.85 L209.14 1061.9 L210.75 1061.95 L212.36 1062.01 L213.97 1062.07 L215.58 1062.14 L217.19 1062.2 L218.8 1062.28 L220.42 1062.35 L222.03 1062.43 L223.64 1062.51 L225.25 1062.59 L226.86 1062.68 L228.47 1062.77 L230.09 1062.86 L231.7 1062.96 L233.31 1063.05 L234.92 1063.15 L236.53 1063.26 L238.14 1063.36 L239.76 1063.46 L241.37 1063.57 L242.98 1063.68 L244.59 1063.79 L246.2 1063.9 L247.81 1064.02 L249.43 1064.13 L251.04 1064.25 L252.65 1064.36 L254.26 1064.48 L255.87 1064.6 L257.48 1064.72 L259.09 1064.84 L260.71 1064.96 L262.32 1065.08 L263.93 1065.21 L265.54 1065.33 L267.15 1065.45 L268.76 1065.57 L270.38 1065.7 L271.99 1065.82 L273.6 1065.94 L275.21 1066.07 L276.82 1066.19 L278.43 1066.31 L280.05 1066.44 L281.66 1066.56 L283.27 1066.68 L284.88 1066.8 L286.49 1066.92 L288.1 1067.04 L289.72 1067.16 L291.33 1067.28 L292.94 1067.4 L294.55 1067.52 L296.16 1067.64 L297.77 1067.75 L299.38 1067.87 L301 1067.99 L302.61 1068.1 L304.22 1068.21 L305.83 1068.32 L307.44 1068.43 L309.05 1068.54 L310.67 1068.65 L312.28 1068.76 L313.89 1068.87 L315.5 1068.97 L317.11 1069.08 L318.72 1069.18 L320.34 1069.28 L321.95 1069.38 L323.56 1069.48 L325.17 1069.58 L326.78 1069.68 L328.39 1069.78 L330.01 1069.87 L331.62 1069.96 L333.23 1070.06 L334.84 1070.15 L336.45 1070.24 L338.06 1070.33 L339.67 1070.41 L341.29 1070.5 L342.9 1070.58 L344.51 1070.67 L346.12 1070.75 L347.73 1070.83 L349.34 1070.91 L350.96 1070.99 L352.57 1071.06 L354.18 1071.14 L355.79 1071.21 L357.4 1071.29 L359.01 1071.36 L360.63 1071.43 L362.24 1071.5 L363.85 1071.57 L365.46 1071.64 L367.07 1071.7 L368.68 1071.77 L370.3 1071.83 L371.91 1071.89 L373.52 1071.96 L375.13 1072.02 L376.74 1072.07 L378.35 1072.13 L379.96 1072.19 L381.58 1072.25 L383.19 1072.3 L384.8 1072.35 L386.41 1072.41 L388.02 1072.46 L389.63 1072.51 L391.25 1072.56 L392.86 1072.61 L394.47 1072.66 L396.08 1072.7 L397.69 1072.75 L399.3 1072.79 L400.92 1072.84 L402.53 1072.88 L404.14 1072.92 L405.75 1072.97 L407.36 1073.01 L408.97 1073.05 L410.59 1073.08 L412.2 1073.12 L413.81 1073.16 L415.42 1073.2 L417.03 1073.23 L418.64 1073.27 L420.25 1073.3 L421.87 1073.33 L423.48 1073.37 L425.09 1073.4 L426.7 1073.43 L428.31 1073.46 L429.92 1073.49 L431.54 1073.52 L433.15 1073.55 L434.76 1073.58 L436.37 1073.6 L437.98 1073.63 L439.59 1073.65 L441.21 1073.68 L442.82 1073.71 L444.43 1073.73 L446.04 1073.75 L447.65 1073.78 L449.26 1073.8 L450.88 1073.82 L452.49 1073.84 L454.1 1073.86 L455.71 1073.88 L457.32 1073.9 L458.93 1073.92 L460.54 1073.94 L462.16 1073.96 L463.77 1073.98 L465.38 1074 L466.99 1074.02 L468.6 1074.03 L470.21 1074.05 L471.83 1074.07 L473.44 1074.08 L475.05 1074.1 L476.66 1074.11 L478.27 1074.13 L479.88 1074.14 L481.5 1074.15 L483.11 1074.17 L484.72 1074.18 L486.33 1074.19 L487.94 1074.21 L489.55 1074.22 L491.17 1074.23 L492.78 1074.24 L494.39 1074.25 L496 1074.27" stroke="#4a4a4a" stroke-width="2.5" fill="none" stroke-linejoin="round"/>
<path d="M93.1 1022 L94.71 1018.63 L96.32 1015.16 L97.93 1011.6 L99.55 1007.95 L101.16 1004.21 L102.77 1000.4 L104.38 996.53 L105.99 992.6 L107.6 988.61 L109.22 984.58 L110.83 980.52 L112.44 976.44 L114.05 972.34 L115.66 968.23 L117.27 964.12 L118.89 960.03 L120.5 955.96 L122.11 951.92 L123.72 947.92 L125.33 943.97 L126.94 940.08 L128.56 936.25 L130.17 932.49 L131.78 928.82 L133.39 925.24 L135 921.75 L136.61 918.36 L138.22 915.08 L139.84 911.92 L141.45 908.87 L143.06 905.95 L144.67 903.16 L146.28 900.49 L147.89 897.96 L149.51 895.57 L151.12 893.31 L152.73 891.2 L154.34 889.22 L155.95 887.38 L157.56 885.68 L159.18 884.12 L160.79 882.7 L162.4 881.41 L164.01 880.26 L165.62 879.24 L167.23 878.34 L168.85 877.57 L170.46 876.91 L172.07 876.37 L173.68 875.94 L175.29 875.6 L176.9 875.36 L178.51 875.21 L180.13 875.13 L181.74 875.11 L183.35 875.16 L184.96 875.3 L186.57 875.54 L188.18 875.87 L189.8 876.29 L191.41 876.79 L193.02 877.39 L194.63 878.07 L196.24 878.83 L197.85 879.68 L199.47 880.6 L201.08 881.6 L202.69 882.67 L204.3 883.82 L205.91 885.03 L207.52 886.32 L209.14 887.67 L210.75 889.08 L212.36 890.55 L213.97 892.08 L215.58 893.66 L217.19 895.3 L218.8 896.98 L220.42 898.72 L222.03 900.5 L223.64 902.32 L225.25 904.18 L226.86 906.08 L228.47 908.02 L230.09 909.98 L231.7 911.98 L233.31 914.01 L234.92 916.06 L236.53 918.14 L238.14 920.23 L239.76 922.35 L241.37 924.48 L242.98 926.63 L244.59 928.79 L246.2 930.96 L247.81 933.14 L249.43 935.33 L251.04 937.52 L252.65 939.72 L254.26 941.91 L255.87 944.11 L257.48 946.3 L259.09 948.5 L260.71 950.68 L262.32 952.86 L263.93 955.03 L265.54 957.2 L267.15 959.35 L268.76 961.49 L270.38 963.62 L271.99 965.73 L273.6 967.83 L275.21 969.92 L276.82 971.98 L278.43 974.03 L280.05 976.06 L281.66 978.07 L283.27 980.06 L284.88 982.03 L286.49 983.97 L288.1 985.9 L289.72 987.8 L291.33 989.68 L292.94 991.53 L294.55 993.36 L296.16 995.17 L297.77 996.95 L299.38 998.71 L301 1000.44 L302.61 1002.14 L304.22 1003.82 L305.83 1005.47 L307.44 1007.09 L309.05 1008.69 L310.67 1010.26 L312.28 1011.81 L313.89 1013.33 L315.5 1014.82 L317.11 1016.29 L318.72 1017.72 L320.34 1019.14 L321.95 1020.52 L323.56 1021.88 L325.17 1023.22 L326.78 1024.52 L328.39 1025.8 L330.01 1027.06 L331.62 1028.29 L333.23 1029.49 L334.84 1030.67 L336.45 1031.83 L338.06 1032.96 L339.67 1034.07 L341.29 1035.15 L342.9 1036.21 L344.51 1037.24 L346.12 1038.25 L347.73 1039.24 L349.34 1040.21 L350.96 1041.15 L352.57 1042.07 L354.18 1042.97 L355.79 1043.85 L357.4 1044.71 L359.01 1045.55 L360.63 1046.37 L362.24 1047.17 L363.85 1047.94 L365.46 1048.7 L367.07 1049.44 L368.68 1050.17 L370.3 1050.87 L371.91 1051.55 L373.52 1052.22 L375.13 1052.87 L376.74 1053.51 L378.35 1054.13 L379.96 1054.73 L381.58 1055.31 L383.19 1055.88 L384.8 1056.44 L386.41 1056.98 L388.02 1057.51 L389.63 1058.02 L391.25 1058.51 L392.86 1059 L394.47 1059.47 L396.08 1059.93 L397.69 1060.37 L399.3 1060.81 L400.92 1061.23 L402.53 1061.64 L404.14 1062.03 L405.75 1062.42 L407.36 1062.8 L408.97 1063.16 L410.59 1063.52 L412.2 1063.86 L413.81 1064.19 L415.42 1064.52 L417.03 1064.83 L418.64 1065.14 L420.25 1065.44 L421.87 1065.73 L423.48 1066.01 L425.09 1066.28 L426.7 1066.54 L428.31 1066.8 L429.92 1067.05 L431.54 1067.29 L433.15 1067.52 L434.76 1067.75 L436.37 1067.97 L437.98 1068.18 L439.59 1068.39 L441.21 1068.59 L442.82 1068.78 L444.43 1068.97 L446.04 1069.15 L447.65 1069.33 L449.26 1069.5 L450.88 1069.67 L452.49 1069.83 L454.1 1069.99 L455.71 1070.14 L457.32 1070.29 L458.93 1070.43 L460.54 1070.57 L462.16 1070.7 L463.77 1070.83 L465.38 1070.95 L466.99 1071.08 L468.6 1071.19 L470.21 1071.31 L471.83 1071.42 L473.44 1071.52 L475.05 1071.63 L476.66 1071.73 L478.27 1071.82 L479.88 1071.92 L481.5 1072.01 L483.11 1072.1 L484.72 1072.18 L486.33 1072.26 L487.94 1072.34 L489.55 1072.42 L491.17 1072.5 L492.78 1072.57 L494.39 1072.64 L496 1072.71" stroke="#f2414a" stroke-width="2.5" fill="none" stroke-linejoin="round"/>
<path d="M93.1 1012.33 L94.71 1008.73 L96.32 1005.04 L97.93 1001.27 L99.55 997.44 L101.16 993.54 L102.77 989.59 L104.38 985.59 L105.99 981.56 L107.6 977.49 L109.22 973.41 L110.83 969.31 L112.44 965.21 L114.05 961.11 L115.66 957.03 L117.27 952.98 L118.89 948.95 L120.5 944.97 L122.11 941.04 L123.72 937.16 L125.33 933.35 L126.94 929.62 L128.56 925.96 L130.17 922.4 L131.78 918.93 L133.39 915.55 L135 912.29 L136.61 909.13 L138.22 906.1 L139.84 903.18 L141.45 900.38 L143.06 897.72 L144.67 895.18 L146.28 892.78 L147.89 890.51 L149.51 888.38 L151.12 886.38 L152.73 884.52 L154.34 882.8 L155.95 881.21 L157.56 879.76 L159.18 878.44 L160.79 877.25 L162.4 876.19 L164.01 875.25 L165.62 874.43 L167.23 873.73 L168.85 873.14 L170.46 872.66 L172.07 872.29 L173.68 872 L175.29 871.81 L176.9 871.69 L178.51 871.64 L180.13 871.64 L181.74 871.72 L183.35 871.91 L184.96 872.18 L186.57 872.55 L188.18 873 L189.8 873.55 L191.41 874.18 L193.02 874.89 L194.63 875.69 L196.24 876.57 L197.85 877.52 L199.47 878.56 L201.08 879.66 L202.69 880.84 L204.3 882.09 L205.91 883.4 L207.52 884.78 L209.14 886.22 L210.75 887.72 L212.36 889.27 L213.97 890.89 L215.58 892.55 L217.19 894.26 L218.8 896.02 L220.42 897.82 L222.03 899.67 L223.64 901.56 L225.25 903.48 L226.86 905.44 L228.47 907.43 L230.09 909.45 L231.7 911.49 L233.31 913.57 L234.92 915.66 L236.53 917.78 L238.14 919.92 L239.76 922.07 L241.37 924.24 L242.98 926.41 L244.59 928.6 L246.2 930.8 L247.81 933.01 L249.43 935.22 L251.04 937.43 L252.65 939.64 L254.26 941.86 L255.87 944.07 L257.48 946.28 L259.09 948.48 L260.71 950.68 L262.32 952.87 L263.93 955.05 L265.54 957.22 L267.15 959.38 L268.76 961.52 L270.38 963.65 L271.99 965.77 L273.6 967.87 L275.21 969.95 L276.82 972.02 L278.43 974.06 L280.05 976.09 L281.66 978.1 L283.27 980.09 L284.88 982.05 L286.49 983.99 L288.1 985.91 L289.72 987.81 L291.33 989.68 L292.94 991.53 L294.55 993.35 L296.16 995.15 L297.77 996.93 L299.38 998.67 L301 1000.4 L302.61 1002.09 L304.22 1003.76 L305.83 1005.41 L307.44 1007.02 L309.05 1008.61 L310.67 1010.18 L312.28 1011.72 L313.89 1013.23 L315.5 1014.71 L317.11 1016.17 L318.72 1017.6 L320.34 1019.01 L321.95 1020.38 L323.56 1021.74 L325.17 1023.06 L326.78 1024.36 L328.39 1025.64 L330.01 1026.89 L331.62 1028.11 L333.23 1029.31 L334.84 1030.49 L336.45 1031.64 L338.06 1032.76 L339.67 1033.86 L341.29 1034.94 L342.9 1035.99 L344.51 1037.02 L346.12 1038.03 L347.73 1039.02 L349.34 1039.98 L350.96 1040.92 L352.57 1041.84 L354.18 1042.74 L355.79 1043.61 L357.4 1044.47 L359.01 1045.31 L360.63 1046.12 L362.24 1046.92 L363.85 1047.69 L365.46 1048.45 L367.07 1049.19 L368.68 1049.91 L370.3 1050.61 L371.91 1051.3 L373.52 1051.97 L375.13 1052.62 L376.74 1053.25 L378.35 1053.87 L379.96 1054.47 L381.58 1055.06 L383.19 1055.63 L384.8 1056.18 L386.41 1056.72 L388.02 1057.25 L389.63 1057.76 L391.25 1058.26 L392.86 1058.75 L394.47 1059.22 L396.08 1059.68 L397.69 1060.13 L399.3 1060.56 L400.92 1060.99 L402.53 1061.4 L404.14 1061.8 L405.75 1062.18 L407.36 1062.56 L408.97 1062.93 L410.59 1063.29 L412.2 1063.63 L413.81 1063.97 L415.42 1064.3 L417.03 1064.61 L418.64 1064.92 L420.25 1065.22 L421.87 1065.51 L423.48 1065.8 L425.09 1066.07 L426.7 1066.34 L428.31 1066.6 L429.92 1066.85 L431.54 1067.09 L433.15 1067.33 L434.76 1067.56 L436.37 1067.78 L437.98 1068 L439.59 1068.21 L441.21 1068.41 L442.82 1068.61 L444.43 1068.8 L446.04 1068.98 L447.65 1069.16 L449.26 1069.34 L450.88 1069.51 L452.49 1069.67 L454.1 1069.83 L455.71 1069.98 L457.32 1070.13 L458.93 1070.28 L460.54 1070.42 L462.16 1070.56 L463.77 1070.69 L465.38 1070.82 L466.99 1070.94 L468.6 1071.06 L470.21 1071.18 L471.83 1071.29 L473.44 1071.4 L475.05 1071.5 L476.66 1071.61 L478.27 1071.71 L479.88 1071.8 L481.5 1071.89 L483.11 1071.98 L484.72 1072.07 L486.33 1072.16 L487.94 1072.24 L489.55 1072.32 L491.17 1072.39 L492.78 1072.47 L494.39 1072.54 L496 1072.61" stroke="#2e6be2" stroke-width="2.5" fill="none" stroke-linejoin="round"/>
<path d="M93.1 990.34 L94.71 985.33 L96.32 980.19 L97.93 974.95 L99.55 969.61 L101.16 964.17 L102.77 958.66 L104.38 953.09 L105.99 947.45 L107.6 941.78 L109.22 936.07 L110.83 930.35 L112.44 924.63 L114.05 918.91 L115.66 913.22 L117.27 907.57 L118.89 901.96 L120.5 896.41 L122.11 890.94 L123.72 885.55 L125.33 880.26 L126.94 875.08 L128.56 870.02 L130.17 865.08 L131.78 860.29 L133.39 855.64 L135 851.15 L136.61 846.82 L138.22 842.66 L139.84 838.67 L141.45 834.87 L143.06 831.25 L144.67 827.82 L146.28 824.58 L147.89 821.54 L149.51 818.69 L151.12 816.03 L152.73 813.58 L154.34 811.31 L155.95 809.24 L157.56 807.36 L159.18 805.67 L160.79 804.17 L162.4 802.84 L164.01 801.69 L165.62 800.7 L167.23 799.88 L168.85 799.21 L170.46 798.69 L172.07 798.3 L173.68 798.04 L175.29 797.89 L176.9 797.84 L178.51 797.85 L180.13 797.99 L181.74 798.25 L183.35 798.62 L184.96 799.12 L186.57 799.72 L188.18 800.45 L189.8 801.28 L191.41 802.22 L193.02 803.27 L194.63 804.42 L196.24 805.67 L197.85 807.02 L199.47 808.46 L201.08 810 L202.69 811.62 L204.3 813.33 L205.91 815.12 L207.52 817 L209.14 818.95 L210.75 820.97 L212.36 823.07 L213.97 825.23 L215.58 827.46 L217.19 829.75 L218.8 832.09 L220.42 834.5 L222.03 836.95 L223.64 839.45 L225.25 842 L226.86 844.6 L228.47 847.23 L230.09 849.9 L231.7 852.6 L233.31 855.34 L234.92 858.1 L236.53 860.89 L238.14 863.71 L239.76 866.54 L241.37 869.4 L242.98 872.26 L244.59 875.15 L246.2 878.04 L247.81 880.94 L249.43 883.85 L251.04 886.76 L252.65 889.67 L254.26 892.58 L255.87 895.49 L257.48 898.4 L259.09 901.3 L260.71 904.19 L262.32 907.08 L263.93 909.95 L265.54 912.81 L267.15 915.65 L268.76 918.48 L270.38 921.29 L271.99 924.09 L273.6 926.86 L275.21 929.62 L276.82 932.35 L278.43 935.05 L280.05 937.74 L281.66 940.4 L283.27 943.03 L284.88 945.64 L286.49 948.22 L288.1 950.77 L289.72 953.29 L291.33 955.78 L292.94 958.24 L294.55 960.67 L296.16 963.07 L297.77 965.44 L299.38 967.78 L301 970.08 L302.61 972.35 L304.22 974.59 L305.83 976.79 L307.44 978.97 L309.05 981.1 L310.67 983.21 L312.28 985.28 L313.89 987.32 L315.5 989.32 L317.11 991.29 L318.72 993.23 L320.34 995.13 L321.95 997 L323.56 998.83 L325.17 1000.64 L326.78 1002.41 L328.39 1004.14 L330.01 1005.85 L331.62 1007.52 L333.23 1009.16 L334.84 1010.76 L336.45 1012.34 L338.06 1013.88 L339.67 1015.4 L341.29 1016.88 L342.9 1018.33 L344.51 1019.75 L346.12 1021.14 L347.73 1022.51 L349.34 1023.84 L350.96 1025.15 L352.57 1026.42 L354.18 1027.67 L355.79 1028.89 L357.4 1030.09 L359.01 1031.25 L360.63 1032.39 L362.24 1033.51 L363.85 1034.6 L365.46 1035.66 L367.07 1036.7 L368.68 1037.72 L370.3 1038.71 L371.91 1039.68 L373.52 1040.62 L375.13 1041.54 L376.74 1042.45 L378.35 1043.32 L379.96 1044.18 L381.58 1045.02 L383.19 1045.83 L384.8 1046.63 L386.41 1047.4 L388.02 1048.16 L389.63 1048.9 L391.25 1049.61 L392.86 1050.31 L394.47 1051 L396.08 1051.66 L397.69 1052.31 L399.3 1052.94 L400.92 1053.56 L402.53 1054.15 L404.14 1054.74 L405.75 1055.31 L407.36 1055.86 L408.97 1056.4 L410.59 1056.92 L412.2 1057.43 L413.81 1057.93 L415.42 1058.41 L417.03 1058.88 L418.64 1059.34 L420.25 1059.78 L421.87 1060.21 L423.48 1060.63 L425.09 1061.04 L426.7 1061.44 L428.31 1061.83 L429.92 1062.21 L431.54 1062.57 L433.15 1062.93 L434.76 1063.27 L436.37 1063.61 L437.98 1063.94 L439.59 1064.25 L441.21 1064.56 L442.82 1064.86 L444.43 1065.15 L446.04 1065.44 L447.65 1065.71 L449.26 1065.98 L450.88 1066.24 L452.49 1066.49 L454.1 1066.74 L455.71 1066.97 L457.32 1067.21 L458.93 1067.43 L460.54 1067.65 L462.16 1067.86 L463.77 1068.06 L465.38 1068.26 L466.99 1068.46 L468.6 1068.65 L470.21 1068.83 L471.83 1069.01 L473.44 1069.18 L475.05 1069.34 L476.66 1069.51 L478.27 1069.66 L479.88 1069.82 L481.5 1069.96 L483.11 1070.11 L484.72 1070.25 L486.33 1070.38 L487.94 1070.51 L489.55 1070.64 L491.17 1070.76 L492.78 1070.88 L494.39 1071 L496 1071.11" stroke="#3aa86a" stroke-width="2.5" fill="none" stroke-linejoin="round" stroke-dasharray="11 12"/>
<path d="M93.1 1065.16 L94.71 1064.58 L96.32 1063.98 L97.93 1063.36 L99.55 1062.72 L101.16 1062.08 L102.77 1061.42 L104.38 1060.74 L105.99 1060.06 L107.6 1059.37 L109.22 1058.66 L110.83 1057.96 L112.44 1057.24 L114.05 1056.52 L115.66 1055.8 L117.27 1055.08 L118.89 1054.36 L120.5 1053.63 L122.11 1052.92 L123.72 1052.2 L125.33 1051.49 L126.94 1050.79 L128.56 1050.1 L130.17 1049.42 L131.78 1048.75 L133.39 1048.09 L135 1047.44 L136.61 1046.81 L138.22 1046.2 L139.84 1045.6 L141.45 1045.02 L143.06 1044.45 L144.67 1043.91 L146.28 1043.39 L147.89 1042.89 L149.51 1042.41 L151.12 1041.95 L152.73 1041.51 L154.34 1041.1 L155.95 1040.7 L157.56 1040.33 L159.18 1039.99 L160.79 1039.66 L162.4 1039.36 L164.01 1039.09 L165.62 1038.83 L167.23 1038.6 L168.85 1038.39 L170.46 1038.2 L172.07 1038.03 L173.68 1037.88 L175.29 1037.75 L176.9 1037.64 L178.51 1037.55 L180.13 1037.48 L181.74 1037.42 L183.35 1037.38 L184.96 1037.35 L186.57 1037.34 L188.18 1037.33 L189.8 1037.33 L191.41 1037.35 L193.02 1037.39 L194.63 1037.44 L196.24 1037.51 L197.85 1037.6 L199.47 1037.7 L201.08 1037.81 L202.69 1037.95 L204.3 1038.09 L205.91 1038.25 L207.52 1038.42 L209.14 1038.61 L210.75 1038.81 L212.36 1039.02 L213.97 1039.24 L215.58 1039.48 L217.19 1039.73 L218.8 1039.99 L220.42 1040.25 L222.03 1040.53 L223.64 1040.82 L225.25 1041.12 L226.86 1041.43 L228.47 1041.74 L230.09 1042.06 L231.7 1042.39 L233.31 1042.73 L234.92 1043.07 L236.53 1043.42 L238.14 1043.78 L239.76 1044.14 L241.37 1044.51 L242.98 1044.88 L244.59 1045.25 L246.2 1045.63 L247.81 1046.01 L249.43 1046.4 L251.04 1046.79 L252.65 1047.18 L254.26 1047.57 L255.87 1047.97 L257.48 1048.36 L259.09 1048.76 L260.71 1049.16 L262.32 1049.55 L263.93 1049.95 L265.54 1050.35 L267.15 1050.75 L268.76 1051.14 L270.38 1051.54 L271.99 1051.93 L273.6 1052.33 L275.21 1052.72 L276.82 1053.11 L278.43 1053.5 L280.05 1053.88 L281.66 1054.27 L283.27 1054.65 L284.88 1055.02 L286.49 1055.4 L288.1 1055.77 L289.72 1056.14 L291.33 1056.5 L292.94 1056.86 L294.55 1057.22 L296.16 1057.57 L297.77 1057.92 L299.38 1058.27 L301 1058.61 L302.61 1058.95 L304.22 1059.28 L305.83 1059.61 L307.44 1059.94 L309.05 1060.26 L310.67 1060.57 L312.28 1060.88 L313.89 1061.19 L315.5 1061.49 L317.11 1061.79 L318.72 1062.08 L320.34 1062.37 L321.95 1062.65 L323.56 1062.93 L325.17 1063.21 L326.78 1063.48 L328.39 1063.74 L330.01 1064 L331.62 1064.26 L333.23 1064.51 L334.84 1064.75 L336.45 1065 L338.06 1065.23 L339.67 1065.47 L341.29 1065.69 L342.9 1065.92 L344.51 1066.14 L346.12 1066.35 L347.73 1066.56 L349.34 1066.77 L350.96 1066.97 L352.57 1067.17 L354.18 1067.36 L355.79 1067.55 L357.4 1067.74 L359.01 1067.92 L360.63 1068.09 L362.24 1068.27 L363.85 1068.44 L365.46 1068.6 L367.07 1068.77 L368.68 1068.92 L370.3 1069.08 L371.91 1069.23 L373.52 1069.38 L375.13 1069.52 L376.74 1069.66 L378.35 1069.8 L379.96 1069.93 L381.58 1070.06 L383.19 1070.19 L384.8 1070.32 L386.41 1070.44 L388.02 1070.56 L389.63 1070.67 L391.25 1070.78 L392.86 1070.89 L394.47 1071 L396.08 1071.11 L397.69 1071.21 L399.3 1071.31 L400.92 1071.4 L402.53 1071.5 L404.14 1071.59 L405.75 1071.68 L407.36 1071.76 L408.97 1071.85 L410.59 1071.93 L412.2 1072.01 L413.81 1072.09 L415.42 1072.17 L417.03 1072.24 L418.64 1072.31 L420.25 1072.38 L421.87 1072.45 L423.48 1072.51 L425.09 1072.58 L426.7 1072.64 L428.31 1072.7 L429.92 1072.76 L431.54 1072.82 L433.15 1072.87 L434.76 1072.93 L436.37 1072.98 L437.98 1073.03 L439.59 1073.08 L441.21 1073.13 L442.82 1073.18 L444.43 1073.22 L446.04 1073.27 L447.65 1073.31 L449.26 1073.35 L450.88 1073.39 L452.49 1073.43 L454.1 1073.47 L455.71 1073.51 L457.32 1073.54 L458.93 1073.58 L460.54 1073.61 L462.16 1073.65 L463.77 1073.68 L465.38 1073.71 L466.99 1073.74 L468.6 1073.77 L470.21 1073.8 L471.83 1073.83 L473.44 1073.85 L475.05 1073.88 L476.66 1073.9 L478.27 1073.93 L479.88 1073.95 L481.5 1073.97 L483.11 1074 L484.72 1074.02 L486.33 1074.04 L487.94 1074.06 L489.55 1074.08 L491.17 1074.1 L492.78 1074.12 L494.39 1074.14 L496 1074.15" stroke="#b078e6" stroke-width="2.5" fill="none" stroke-linejoin="round"/>
</g>
<path d="M383.7 797.6H430.5" stroke="#4a4a4a" stroke-width="2.8"/>
<text x="434.3" y="804.2" font-size="19.8" font-weight="normal" text-anchor="start" fill="#333">50 °C</text>
<path d="M383.7 822.12H430.5" stroke="#f2414a" stroke-width="2.8"/>
<text x="434.3" y="828.72" font-size="19.8" font-weight="normal" text-anchor="start" fill="#333">70 °C</text>
<path d="M383.7 846.64H430.5" stroke="#2e6be2" stroke-width="2.8"/>
<text x="434.3" y="853.24" font-size="19.8" font-weight="normal" text-anchor="start" fill="#333">100 °C</text>
<path d="M383.7 871.16H430.5" stroke="#3aa86a" stroke-width="2.8" stroke-dasharray="12 12.3"/>
<text x="434.3" y="877.76" font-size="19.8" font-weight="normal" text-anchor="start" fill="#333">110 °C</text>
<path d="M383.7 895.68H430.5" stroke="#b078e6" stroke-width="2.8"/>
<text x="434.3" y="902.28" font-size="19.8" font-weight="normal" text-anchor="start" fill="#333">120 °C</text>
<rect x="575.7" y="772.4" width="405" height="326.6" fill="none" stroke="#111" stroke-width="2.2"/>
<path d="M569.2 1099H575.7M569.2 1026.42H575.7M569.2 953.84H575.7M569.2 881.27H575.7M569.2 808.69H575.7M572.2 1062.71H575.7M572.2 990.13H575.7M572.2 917.56H575.7M572.2 844.98H575.7M572.2 772.4H575.7" stroke="#111" stroke-width="2.0" fill="none"/>
<text x="564.5" y="1105.2" text-anchor="end" font-size="19.8" font-weight="bold">-4000</text>
<text x="564.5" y="1032.62" text-anchor="end" font-size="19.8" font-weight="bold">-2000</text>
<text x="564.5" y="960.04" text-anchor="end" font-size="19.8" font-weight="bold">0</text>
<text x="564.5" y="887.47" text-anchor="end" font-size="19.8" font-weight="bold">2000</text>
<text x="564.5" y="814.89" text-anchor="end" font-size="19.8" font-weight="bold">4000</text>
<path d="M575.7 1099V1105.5M620.7 1099V1105.5M665.7 1099V1105.5M710.7 1099V1105.5M755.7 1099V1105.5M800.7 1099V1105.5M845.7 1099V1105.5M890.7 1099V1105.5M935.7 1099V1105.5M980.7 1099V1105.5" stroke="#111" stroke-width="2.0" fill="none"/>
<text x="575.7" y="1125.5" text-anchor="middle" font-size="19.8" font-weight="bold">40</text>
<text x="620.7" y="1125.5" text-anchor="middle" font-size="19.8" font-weight="bold">50</text>
<text x="665.7" y="1125.5" text-anchor="middle" font-size="19.8" font-weight="bold">60</text>
<text x="710.7" y="1125.5" text-anchor="middle" font-size="19.8" font-weight="bold">70</text>
<text x="755.7" y="1125.5" text-anchor="middle" font-size="19.8" font-weight="bold">80</text>
<text x="800.7" y="1125.5" text-anchor="middle" font-size="19.8" font-weight="bold">90</text>
<text x="845.7" y="1125.5" text-anchor="middle" font-size="19.8" font-weight="bold">100</text>
<text x="890.7" y="1125.5" text-anchor="middle" font-size="19.8" font-weight="bold">110</text>
<text x="935.7" y="1125.5" text-anchor="middle" font-size="19.8" font-weight="bold">120</text>
<text x="980.7" y="1125.5" text-anchor="middle" font-size="19.8" font-weight="bold">130</text>
<text x="499.4" y="790.8" font-size="49" font-weight="bold" text-anchor="start">(f)</text>
<path d="M627 949.08L704.4 924.89M717.3 922.89L839.1 922.27M852.08 920.54L884.32 911.99M895.79 914.5L930.61 943.26" stroke="#111" stroke-width="2.5" fill="none" stroke-linecap="butt"/>
<polygon points="620.7,944.65 622.46,948.62 626.79,949.07 623.55,951.98 624.46,956.23 620.7,954.05 616.94,956.23 617.85,951.98 614.61,949.07 618.94,948.62" fill="#ff1010"/>
<polygon points="710.7,916.53 712.46,920.5 716.79,920.95 713.55,923.85 714.46,928.1 710.7,925.93 706.94,928.1 707.85,923.85 704.61,920.95 708.94,920.5" fill="#ff1010"/>
<polygon points="845.7,915.84 847.46,919.81 851.79,920.26 848.55,923.16 849.46,927.41 845.7,925.24 841.94,927.41 842.85,923.16 839.61,920.26 843.94,919.81" fill="#ff1010"/>
<polygon points="890.7,903.9 892.46,907.87 896.79,908.32 893.55,911.22 894.46,915.48 890.7,913.3 886.94,915.48 887.85,911.22 884.61,908.32 888.94,907.87" fill="#ff1010"/>
<polygon points="935.7,941.06 937.46,945.03 941.79,945.48 938.55,948.38 939.46,952.64 935.7,950.46 931.94,952.64 932.85,948.38 929.61,945.48 933.94,945.03" fill="#ff1010"/>
<text transform="translate(519.8 950.2) rotate(-90)" font-size="24" font-weight="bold">I/I</text>
<text transform="translate(525.3 926.3) rotate(-90)" font-size="17" font-weight="bold">0</text>
<text x="780" y="1143" font-size="23.9" font-weight="bold" text-anchor="middle">Temperature(°C)</text>
</g>
</svg>
</body></html>
